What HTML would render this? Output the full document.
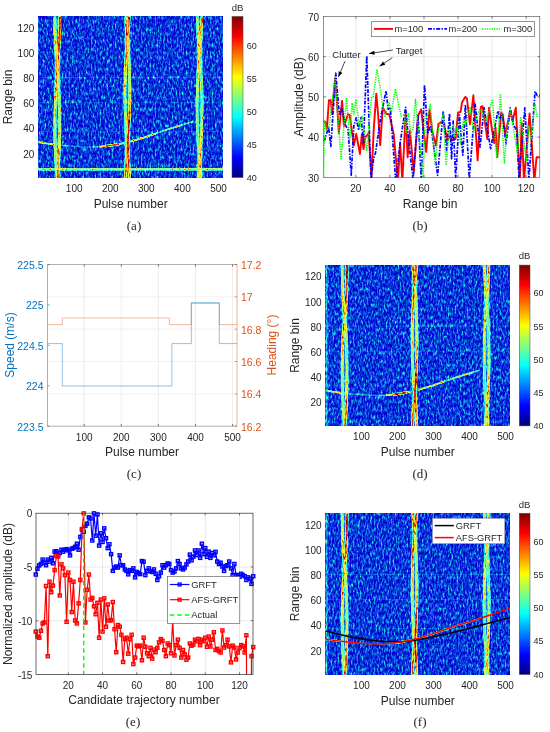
<!DOCTYPE html>
<html><head><meta charset="utf-8"><title>Figure</title>
<style>
html,body{margin:0;padding:0;background:#fff;}
svg{display:block}
text.s{font-family:"Liberation Sans",Arial,sans-serif;}
text.r{font-family:"Liberation Serif","Times New Roman",serif;}
</style></head><body>
<svg width="550" height="732" viewBox="0 0 550 732">
<rect width="550" height="732" fill="#fff"/>
<defs>
<linearGradient id="cbg" x1="0" x2="0" y1="1" y2="0">
<stop offset="0" stop-color="#000080"/><stop offset="0.125" stop-color="#0000ff"/><stop offset="0.375" stop-color="#00ffff"/><stop offset="0.625" stop-color="#ffff00"/><stop offset="0.875" stop-color="#ff0000"/><stop offset="1" stop-color="#800000"/>
</linearGradient>
</defs>
<filter id="jeta" filterUnits="userSpaceOnUse" x="38.3" y="16.5" width="184.7" height="161.0" color-interpolation-filters="sRGB">
<feTurbulence type="fractalNoise" baseFrequency="0.58 0.25" numOctaves="3" seed="3" result="n"/>
<feColorMatrix in="n" type="matrix" values="1 0 0 0 0  1 0 0 0 0  1 0 0 0 0  0 0 0 0 1" result="g0"/>
<feComponentTransfer in="g0" result="g">
<feFuncR type="gamma" amplitude="0.48" exponent="2.5" offset="0.092"/>
<feFuncG type="gamma" amplitude="0.48" exponent="2.5" offset="0.092"/>
<feFuncB type="gamma" amplitude="0.48" exponent="2.5" offset="0.092"/>
</feComponentTransfer>
<feGaussianBlur in="g" stdDeviation="0.4 0.55" result="gb"/>
<feComposite in="SourceGraphic" in2="gb" operator="arithmetic" k1="0.45" k2="1" k3="1" k4="0" result="s"/>
<feComponentTransfer in="s">
<feFuncR type="table" tableValues="0 0 0 0 0.5 1 1 1 0.5"/>
<feFuncG type="table" tableValues="0 0 0.5 1 1 1 0.5 0 0"/>
<feFuncB type="table" tableValues="0.5 1 1 1 0.5 0 0 0 0"/>
</feComponentTransfer>
<feColorMatrix type="saturate" values="0.82"/>
</filter>
<g filter="url(#jeta)">
<rect x="38.3" y="16.5" width="184.7" height="161.0" fill="#000"/>
<rect x="38.3" y="76.90" width="184.7" height="1.2" fill="#0d0d0d"/>
<rect x="38.3" y="102.06" width="184.7" height="1.2" fill="#0a0a0a"/>
<rect x="38.3" y="51.75" width="184.7" height="1.2" fill="#050505"/>
<rect x="38.3" y="130.99" width="184.7" height="1.2" fill="#080808"/>
<polyline points="38.48,142.15 39.92,142.39 41.37,142.62 42.81,142.84 44.25,143.07 45.70,143.28 47.14,143.49 48.58,143.70 50.02,143.90 51.47,144.09 52.91,144.27 54.35,144.45 54.35,144.45" fill="none" stroke="#707070" stroke-width="1.6"/>
<polyline points="54.35,144.45 55.80,144.62 57.24,144.78 58.68,144.94 60.12,145.09 61.57,145.23 63.01,145.37 64.45,145.51 65.18,145.57" fill="none" stroke="#262626" stroke-width="1.6"/>
<polyline points="65.18,145.57 66.62,145.70 68.06,145.81 69.50,145.93 70.95,146.03 72.39,146.13 73.83,146.23 75.28,146.32 76.72,146.40 78.16,146.49 79.60,146.56 81.05,146.64 82.49,146.71 83.93,146.77 85.38,146.82 86.82,146.87 88.26,146.90 89.71,146.93 91.15,146.93 92.23,146.93" fill="none" stroke="#171717" stroke-width="1.6"/>
<polyline points="92.23,146.93 93.67,146.91 95.12,146.87 96.56,146.82 98.00,146.74 99.45,146.65 99.45,146.65" fill="none" stroke="#292929" stroke-width="1.6"/>
<polyline points="99.45,146.65 100.89,146.54 102.33,146.42 103.77,146.28 105.22,146.13 105.94,146.05" fill="none" stroke="#666666" stroke-width="1.6"/>
<polyline points="105.94,146.05 107.38,145.88 108.83,145.70 110.27,145.51 111.71,145.31 113.15,145.09 114.60,144.87 116.04,144.63 117.48,144.37 118.93,144.11 119.65,143.97" fill="none" stroke="#9e9e9e" stroke-width="2.2"/>
<polyline points="119.65,143.97 121.09,143.68 122.53,143.38 123.98,143.07 124.70,142.91" fill="none" stroke="#757575" stroke-width="1.6"/>
<polyline points="124.70,142.91 126.14,142.58 127.58,142.23 129.03,141.87 130.47,141.49 131.91,141.11 133.36,140.71 134.80,140.31 136.24,139.89 137.68,139.46 139.13,139.03 140.57,138.58 142.01,138.13 143.46,137.66 144.90,137.19 146.34,136.71 147.79,136.23 149.23,135.74 150.67,135.25 152.11,134.75 153.56,134.25 155.00,133.75 156.44,133.25 157.16,133.00" fill="none" stroke="#707070" stroke-width="1.6"/>
<polyline points="157.16,133.00 158.61,132.50 160.05,132.00 161.49,131.50 162.94,131.01 164.38,130.52 164.38,130.52" fill="none" stroke="#333333" stroke-width="1.6"/>
<polyline points="164.38,130.52 165.82,130.03 167.27,129.56 168.71,129.08 170.15,128.62 171.59,128.15 173.04,127.70 174.48,127.25 175.92,126.80 177.37,126.36 178.81,125.92 180.25,125.49 181.70,125.05 182.42,124.83" fill="none" stroke="#575757" stroke-width="1.6"/>
<polyline points="182.42,124.83 183.86,124.39 185.30,123.95 186.75,123.51 188.19,123.06 189.63,122.60 191.07,122.14 192.52,121.67 193.24,121.44" fill="none" stroke="#383838" stroke-width="1.6"/>
<rect x="54.05" y="16.5" width="6.6" height="161.0" fill="#141414"/>
<polyline points="54.90,16.50 54.94,23.21 55.06,29.92 55.25,36.62 55.51,43.33 55.83,50.04 56.19,56.75 56.59,63.46 57.00,70.17 56.59,76.88 56.19,83.58 55.83,90.29 55.51,97.00 55.25,103.71 55.06,110.42 54.94,117.12 54.90,123.83 54.94,130.54 55.06,137.25 55.25,143.96 55.51,150.67 55.83,157.38 56.19,164.08 56.59,170.79 57.00,177.50" fill="none" stroke="#5c5c5c" stroke-width="2.8"/>
<polyline points="59.80,16.50 59.76,23.21 59.64,29.92 59.44,36.62 59.18,43.33 58.86,50.04 58.50,56.75 58.11,63.46 57.70,70.17 58.11,76.88 58.50,83.58 58.86,90.29 59.18,97.00 59.44,103.71 59.64,110.42 59.76,117.12 59.80,123.83 59.76,130.54 59.64,137.25 59.44,143.96 59.18,150.67 58.86,157.38 58.50,164.08 58.11,170.79 57.70,177.50" fill="none" stroke="#5c5c5c" stroke-width="2.8"/>
<line x1="54.90" y1="16.50" x2="54.94" y2="23.51" stroke="#494949" stroke-width="1.6"/>
<line x1="54.94" y1="23.21" x2="55.06" y2="30.22" stroke="#525252" stroke-width="1.6"/>
<line x1="55.06" y1="29.92" x2="55.26" y2="36.92" stroke="#5c5c5c" stroke-width="1.6"/>
<line x1="55.25" y1="36.62" x2="55.53" y2="43.63" stroke="#676767" stroke-width="1.6"/>
<line x1="55.51" y1="43.33" x2="55.85" y2="50.34" stroke="#737373" stroke-width="1.6"/>
<line x1="55.83" y1="50.04" x2="56.21" y2="57.05" stroke="#7d7d7d" stroke-width="1.6"/>
<line x1="56.19" y1="56.75" x2="56.61" y2="63.76" stroke="#858585" stroke-width="1.6"/>
<line x1="56.59" y1="63.46" x2="56.98" y2="70.47" stroke="#8b8b8b" stroke-width="1.6"/>
<line x1="57.00" y1="70.17" x2="56.57" y2="77.17" stroke="#8e8e8e" stroke-width="1.6"/>
<line x1="56.59" y1="76.88" x2="56.18" y2="83.88" stroke="#8e8e8e" stroke-width="1.6"/>
<line x1="56.19" y1="83.58" x2="55.82" y2="90.59" stroke="#8a8a8a" stroke-width="1.6"/>
<line x1="55.83" y1="90.29" x2="55.50" y2="97.30" stroke="#848484" stroke-width="1.6"/>
<line x1="55.51" y1="97.00" x2="55.24" y2="104.01" stroke="#7b7b7b" stroke-width="1.6"/>
<line x1="55.25" y1="103.71" x2="55.05" y2="110.72" stroke="#707070" stroke-width="1.6"/>
<line x1="55.06" y1="110.42" x2="54.93" y2="117.42" stroke="#656565" stroke-width="1.6"/>
<line x1="54.94" y1="117.12" x2="54.90" y2="124.13" stroke="#5a5a5a" stroke-width="1.6"/>
<line x1="54.90" y1="123.83" x2="54.94" y2="130.84" stroke="#505050" stroke-width="1.6"/>
<line x1="54.94" y1="130.54" x2="55.06" y2="137.55" stroke="#494949" stroke-width="1.6"/>
<line x1="55.06" y1="137.25" x2="55.26" y2="144.26" stroke="#444444" stroke-width="1.6"/>
<line x1="55.25" y1="143.96" x2="55.53" y2="150.97" stroke="#424242" stroke-width="1.6"/>
<line x1="55.51" y1="150.67" x2="55.85" y2="157.68" stroke="#434343" stroke-width="1.6"/>
<line x1="55.83" y1="157.38" x2="56.21" y2="164.38" stroke="#484848" stroke-width="1.6"/>
<line x1="56.19" y1="164.08" x2="56.61" y2="171.09" stroke="#505050" stroke-width="1.6"/>
<line x1="56.59" y1="170.79" x2="56.98" y2="177.80" stroke="#595959" stroke-width="1.6"/>
<line x1="59.80" y1="16.50" x2="59.75" y2="23.51" stroke="#a4a4a4" stroke-width="2.0"/>
<line x1="59.76" y1="23.21" x2="59.63" y2="30.22" stroke="#a6a6a6" stroke-width="2.0"/>
<line x1="59.64" y1="29.92" x2="59.43" y2="36.92" stroke="#a5a5a5" stroke-width="2.0"/>
<line x1="59.44" y1="36.62" x2="59.17" y2="43.63" stroke="#a1a1a1" stroke-width="2.0"/>
<line x1="59.18" y1="43.33" x2="58.85" y2="50.34" stroke="#989898" stroke-width="2.0"/>
<line x1="58.86" y1="50.04" x2="58.48" y2="57.05" stroke="#8d8d8d" stroke-width="2.0"/>
<line x1="58.50" y1="56.75" x2="58.09" y2="63.76" stroke="#818181" stroke-width="2.0"/>
<line x1="58.11" y1="63.46" x2="57.72" y2="70.47" stroke="#737373" stroke-width="2.0"/>
<line x1="57.70" y1="70.17" x2="58.12" y2="77.17" stroke="#666666" stroke-width="2.0"/>
<line x1="58.11" y1="76.88" x2="58.52" y2="83.88" stroke="#5a5a5a" stroke-width="2.0"/>
<line x1="58.50" y1="83.58" x2="58.88" y2="90.59" stroke="#515151" stroke-width="2.0"/>
<line x1="58.86" y1="90.29" x2="59.20" y2="97.30" stroke="#4a4a4a" stroke-width="2.0"/>
<line x1="59.18" y1="97.00" x2="59.45" y2="104.01" stroke="#474747" stroke-width="2.0"/>
<line x1="59.44" y1="103.71" x2="59.64" y2="110.72" stroke="#484848" stroke-width="2.0"/>
<line x1="59.64" y1="110.42" x2="59.76" y2="117.42" stroke="#4c4c4c" stroke-width="2.0"/>
<line x1="59.76" y1="117.12" x2="59.80" y2="124.13" stroke="#535353" stroke-width="2.0"/>
<line x1="59.80" y1="123.83" x2="59.75" y2="130.84" stroke="#5c5c5c" stroke-width="2.0"/>
<line x1="59.76" y1="130.54" x2="59.63" y2="137.55" stroke="#676767" stroke-width="2.0"/>
<line x1="59.64" y1="137.25" x2="59.43" y2="144.26" stroke="#727272" stroke-width="2.0"/>
<line x1="59.44" y1="143.96" x2="59.17" y2="150.97" stroke="#7d7d7d" stroke-width="2.0"/>
<line x1="59.18" y1="150.67" x2="58.85" y2="157.68" stroke="#878787" stroke-width="2.0"/>
<line x1="58.86" y1="157.38" x2="58.48" y2="164.38" stroke="#8e8e8e" stroke-width="2.0"/>
<line x1="58.50" y1="164.08" x2="58.09" y2="171.09" stroke="#929292" stroke-width="2.0"/>
<line x1="58.11" y1="170.79" x2="57.72" y2="177.80" stroke="#929292" stroke-width="2.0"/>
<rect x="124.10" y="16.5" width="6.6" height="161.0" fill="#141414"/>
<polyline points="125.82,16.50 126.17,23.21 126.56,29.92 126.97,36.62 126.72,43.33 126.33,50.04 125.96,56.75 125.63,63.46 125.35,70.17 125.15,76.88 125.01,83.58 124.95,90.29 124.98,97.00 125.08,103.71 125.26,110.42 125.51,117.12 125.82,123.83 126.17,130.54 126.56,137.25 126.97,143.96 126.72,150.67 126.33,157.38 125.96,164.08 125.63,170.79 125.35,177.50" fill="none" stroke="#616161" stroke-width="2.8"/>
<polyline points="128.99,16.50 128.63,23.21 128.24,29.92 127.84,36.62 128.08,43.33 128.48,50.04 128.85,56.75 129.18,63.46 129.45,70.17 129.66,76.88 129.80,83.58 129.85,90.29 129.83,97.00 129.72,103.71 129.54,110.42 129.30,117.12 128.99,123.83 128.63,130.54 128.24,137.25 127.84,143.96 128.08,150.67 128.48,157.38 128.85,164.08 129.18,170.79 129.45,177.50" fill="none" stroke="#616161" stroke-width="2.8"/>
<line x1="125.82" y1="16.50" x2="126.19" y2="23.51" stroke="#878787" stroke-width="1.6"/>
<line x1="126.17" y1="23.21" x2="126.58" y2="30.22" stroke="#909090" stroke-width="1.6"/>
<line x1="126.56" y1="29.92" x2="126.99" y2="36.92" stroke="#969696" stroke-width="1.6"/>
<line x1="126.97" y1="36.62" x2="126.71" y2="43.63" stroke="#989898" stroke-width="1.6"/>
<line x1="126.72" y1="43.33" x2="126.31" y2="50.34" stroke="#979797" stroke-width="1.6"/>
<line x1="126.33" y1="50.04" x2="125.94" y2="57.05" stroke="#939393" stroke-width="1.6"/>
<line x1="125.96" y1="56.75" x2="125.61" y2="63.76" stroke="#8c8c8c" stroke-width="1.6"/>
<line x1="125.63" y1="63.46" x2="125.34" y2="70.47" stroke="#828282" stroke-width="1.6"/>
<line x1="125.35" y1="70.17" x2="125.14" y2="77.17" stroke="#767676" stroke-width="1.6"/>
<line x1="125.15" y1="76.88" x2="125.01" y2="83.88" stroke="#6a6a6a" stroke-width="1.6"/>
<line x1="125.01" y1="83.58" x2="124.95" y2="90.59" stroke="#5f5f5f" stroke-width="1.6"/>
<line x1="124.95" y1="90.29" x2="124.98" y2="97.30" stroke="#555555" stroke-width="1.6"/>
<line x1="124.98" y1="97.00" x2="125.09" y2="104.01" stroke="#4d4d4d" stroke-width="1.6"/>
<line x1="125.08" y1="103.71" x2="125.27" y2="110.72" stroke="#484848" stroke-width="1.6"/>
<line x1="125.26" y1="110.42" x2="125.52" y2="117.42" stroke="#464646" stroke-width="1.6"/>
<line x1="125.51" y1="117.12" x2="125.83" y2="124.13" stroke="#484848" stroke-width="1.6"/>
<line x1="125.82" y1="123.83" x2="126.19" y2="130.84" stroke="#4e4e4e" stroke-width="1.6"/>
<line x1="126.17" y1="130.54" x2="126.58" y2="137.55" stroke="#565656" stroke-width="1.6"/>
<line x1="126.56" y1="137.25" x2="126.99" y2="144.26" stroke="#616161" stroke-width="1.6"/>
<line x1="126.97" y1="143.96" x2="126.71" y2="150.97" stroke="#6d6d6d" stroke-width="1.6"/>
<line x1="126.72" y1="150.67" x2="126.31" y2="157.68" stroke="#7a7a7a" stroke-width="1.6"/>
<line x1="126.33" y1="157.38" x2="125.94" y2="164.38" stroke="#868686" stroke-width="1.6"/>
<line x1="125.96" y1="164.08" x2="125.61" y2="171.09" stroke="#909090" stroke-width="1.6"/>
<line x1="125.63" y1="170.79" x2="125.34" y2="177.80" stroke="#989898" stroke-width="1.6"/>
<line x1="128.99" y1="16.50" x2="128.62" y2="23.51" stroke="#9a9a9a" stroke-width="2.0"/>
<line x1="128.63" y1="23.21" x2="128.23" y2="30.22" stroke="#8c8c8c" stroke-width="2.0"/>
<line x1="128.24" y1="29.92" x2="127.82" y2="36.92" stroke="#7d7d7d" stroke-width="2.0"/>
<line x1="127.84" y1="36.62" x2="128.10" y2="43.63" stroke="#6f6f6f" stroke-width="2.0"/>
<line x1="128.08" y1="43.33" x2="128.50" y2="50.34" stroke="#626262" stroke-width="2.0"/>
<line x1="128.48" y1="50.04" x2="128.87" y2="57.05" stroke="#585858" stroke-width="2.0"/>
<line x1="128.85" y1="56.75" x2="129.19" y2="63.76" stroke="#525252" stroke-width="2.0"/>
<line x1="129.18" y1="63.46" x2="129.46" y2="70.47" stroke="#4f4f4f" stroke-width="2.0"/>
<line x1="129.45" y1="70.17" x2="129.67" y2="77.17" stroke="#515151" stroke-width="2.0"/>
<line x1="129.66" y1="76.88" x2="129.80" y2="83.88" stroke="#565656" stroke-width="2.0"/>
<line x1="129.80" y1="83.58" x2="129.85" y2="90.59" stroke="#5e5e5e" stroke-width="2.0"/>
<line x1="129.85" y1="90.29" x2="129.82" y2="97.30" stroke="#696969" stroke-width="2.0"/>
<line x1="129.83" y1="97.00" x2="129.72" y2="104.01" stroke="#767676" stroke-width="2.0"/>
<line x1="129.72" y1="103.71" x2="129.53" y2="110.72" stroke="#838383" stroke-width="2.0"/>
<line x1="129.54" y1="110.42" x2="129.28" y2="117.42" stroke="#8f8f8f" stroke-width="2.0"/>
<line x1="129.30" y1="117.12" x2="128.97" y2="124.13" stroke="#9a9a9a" stroke-width="2.0"/>
<line x1="128.99" y1="123.83" x2="128.62" y2="130.84" stroke="#a1a1a1" stroke-width="2.0"/>
<line x1="128.63" y1="130.54" x2="128.23" y2="137.55" stroke="#a6a6a6" stroke-width="2.0"/>
<line x1="128.24" y1="137.25" x2="127.82" y2="144.26" stroke="#a7a7a7" stroke-width="2.0"/>
<line x1="127.84" y1="143.96" x2="128.10" y2="150.97" stroke="#a3a3a3" stroke-width="2.0"/>
<line x1="128.08" y1="150.67" x2="128.50" y2="157.68" stroke="#9d9d9d" stroke-width="2.0"/>
<line x1="128.48" y1="157.38" x2="128.87" y2="164.38" stroke="#939393" stroke-width="2.0"/>
<line x1="128.85" y1="164.08" x2="129.19" y2="171.09" stroke="#878787" stroke-width="2.0"/>
<line x1="129.18" y1="170.79" x2="129.46" y2="177.80" stroke="#7a7a7a" stroke-width="2.0"/>
<rect x="196.29" y="16.5" width="6.6" height="161.0" fill="#141414"/>
<polyline points="197.37,16.50 197.59,23.21 197.87,29.92 198.21,36.62 198.59,43.33 198.99,50.04 199.07,56.75 198.67,63.46 198.28,70.17 197.94,76.88 197.64,83.58 197.41,90.29 197.24,97.00 197.15,103.71 197.14,110.42 197.22,117.12 197.37,123.83 197.59,130.54 197.87,137.25 198.21,143.96 198.59,150.67 198.99,157.38 199.07,164.08 198.67,170.79 198.28,177.50" fill="none" stroke="#525252" stroke-width="2.8"/>
<polyline points="201.81,16.50 201.59,23.21 201.30,29.92 200.96,36.62 200.59,43.33 200.18,50.04 200.10,56.75 200.51,63.46 200.89,70.17 201.24,76.88 201.53,83.58 201.77,90.29 201.94,97.00 202.02,103.71 202.03,110.42 201.96,117.12 201.81,123.83 201.59,130.54 201.30,137.25 200.96,143.96 200.59,150.67 200.18,157.38 200.10,164.08 200.51,170.79 200.89,177.50" fill="none" stroke="#525252" stroke-width="2.8"/>
<line x1="197.37" y1="16.50" x2="197.60" y2="23.51" stroke="#565656" stroke-width="1.6"/>
<line x1="197.59" y1="23.21" x2="197.89" y2="30.22" stroke="#606060" stroke-width="1.6"/>
<line x1="197.87" y1="29.92" x2="198.23" y2="36.92" stroke="#6a6a6a" stroke-width="1.6"/>
<line x1="198.21" y1="36.62" x2="198.61" y2="43.63" stroke="#727272" stroke-width="1.6"/>
<line x1="198.59" y1="43.33" x2="199.01" y2="50.34" stroke="#787878" stroke-width="1.6"/>
<line x1="198.99" y1="50.04" x2="199.05" y2="57.05" stroke="#7c7c7c" stroke-width="1.6"/>
<line x1="199.07" y1="56.75" x2="198.65" y2="63.76" stroke="#7d7d7d" stroke-width="1.6"/>
<line x1="198.67" y1="63.46" x2="198.27" y2="70.47" stroke="#7b7b7b" stroke-width="1.6"/>
<line x1="198.28" y1="70.17" x2="197.92" y2="77.17" stroke="#767676" stroke-width="1.6"/>
<line x1="197.94" y1="76.88" x2="197.63" y2="83.88" stroke="#6f6f6f" stroke-width="1.6"/>
<line x1="197.64" y1="83.58" x2="197.40" y2="90.59" stroke="#676767" stroke-width="1.6"/>
<line x1="197.41" y1="90.29" x2="197.23" y2="97.30" stroke="#5d5d5d" stroke-width="1.6"/>
<line x1="197.24" y1="97.00" x2="197.15" y2="104.01" stroke="#535353" stroke-width="1.6"/>
<line x1="197.15" y1="103.71" x2="197.15" y2="110.72" stroke="#4a4a4a" stroke-width="1.6"/>
<line x1="197.14" y1="110.42" x2="197.22" y2="117.42" stroke="#434343" stroke-width="1.6"/>
<line x1="197.22" y1="117.12" x2="197.38" y2="124.13" stroke="#3d3d3d" stroke-width="1.6"/>
<line x1="197.37" y1="123.83" x2="197.60" y2="130.84" stroke="#3a3a3a" stroke-width="1.6"/>
<line x1="197.59" y1="130.54" x2="197.89" y2="137.55" stroke="#3a3a3a" stroke-width="1.6"/>
<line x1="197.87" y1="137.25" x2="198.23" y2="144.26" stroke="#3d3d3d" stroke-width="1.6"/>
<line x1="198.21" y1="143.96" x2="198.61" y2="150.97" stroke="#434343" stroke-width="1.6"/>
<line x1="198.59" y1="150.67" x2="199.01" y2="157.68" stroke="#4b4b4b" stroke-width="1.6"/>
<line x1="198.99" y1="157.38" x2="199.05" y2="164.38" stroke="#545454" stroke-width="1.6"/>
<line x1="199.07" y1="164.08" x2="198.65" y2="171.09" stroke="#5f5f5f" stroke-width="1.6"/>
<line x1="198.67" y1="170.79" x2="198.27" y2="177.80" stroke="#696969" stroke-width="1.6"/>
<line x1="201.81" y1="16.50" x2="201.58" y2="23.51" stroke="#848484" stroke-width="2.0"/>
<line x1="201.59" y1="23.21" x2="201.29" y2="30.22" stroke="#7f7f7f" stroke-width="2.0"/>
<line x1="201.30" y1="29.92" x2="200.95" y2="36.92" stroke="#777777" stroke-width="2.0"/>
<line x1="200.96" y1="36.62" x2="200.57" y2="43.63" stroke="#6e6e6e" stroke-width="2.0"/>
<line x1="200.59" y1="43.33" x2="200.17" y2="50.34" stroke="#636363" stroke-width="2.0"/>
<line x1="200.18" y1="50.04" x2="200.12" y2="57.05" stroke="#585858" stroke-width="2.0"/>
<line x1="200.10" y1="56.75" x2="200.53" y2="63.76" stroke="#4e4e4e" stroke-width="2.0"/>
<line x1="200.51" y1="63.46" x2="200.91" y2="70.47" stroke="#464646" stroke-width="2.0"/>
<line x1="200.89" y1="70.17" x2="201.25" y2="77.17" stroke="#3f3f3f" stroke-width="2.0"/>
<line x1="201.24" y1="76.88" x2="201.55" y2="83.88" stroke="#3c3c3c" stroke-width="2.0"/>
<line x1="201.53" y1="83.58" x2="201.78" y2="90.59" stroke="#3b3b3b" stroke-width="2.0"/>
<line x1="201.77" y1="90.29" x2="201.94" y2="97.30" stroke="#3d3d3d" stroke-width="2.0"/>
<line x1="201.94" y1="97.00" x2="202.03" y2="104.01" stroke="#424242" stroke-width="2.0"/>
<line x1="202.02" y1="103.71" x2="202.03" y2="110.72" stroke="#4a4a4a" stroke-width="2.0"/>
<line x1="202.03" y1="110.42" x2="201.95" y2="117.42" stroke="#535353" stroke-width="2.0"/>
<line x1="201.96" y1="117.12" x2="201.80" y2="124.13" stroke="#5c5c5c" stroke-width="2.0"/>
<line x1="201.81" y1="123.83" x2="201.58" y2="130.84" stroke="#666666" stroke-width="2.0"/>
<line x1="201.59" y1="130.54" x2="201.29" y2="137.55" stroke="#6f6f6f" stroke-width="2.0"/>
<line x1="201.30" y1="137.25" x2="200.95" y2="144.26" stroke="#767676" stroke-width="2.0"/>
<line x1="200.96" y1="143.96" x2="200.57" y2="150.97" stroke="#7b7b7b" stroke-width="2.0"/>
<line x1="200.59" y1="150.67" x2="200.17" y2="157.68" stroke="#7d7d7d" stroke-width="2.0"/>
<line x1="200.18" y1="157.38" x2="200.12" y2="164.38" stroke="#7c7c7c" stroke-width="2.0"/>
<line x1="200.10" y1="164.08" x2="200.53" y2="171.09" stroke="#797979" stroke-width="2.0"/>
<line x1="200.51" y1="170.79" x2="200.91" y2="177.80" stroke="#737373" stroke-width="2.0"/>
<rect x="38.3" y="168.22" width="184.7" height="2.2" fill="#666666"/>
</g>
<text class="s" x="74.19" y="192.00" font-size="10" text-anchor="middle" fill="#262626">100</text>
<text class="s" x="110.27" y="192.00" font-size="10" text-anchor="middle" fill="#262626">200</text>
<text class="s" x="146.34" y="192.00" font-size="10" text-anchor="middle" fill="#262626">300</text>
<text class="s" x="182.42" y="192.00" font-size="10" text-anchor="middle" fill="#262626">400</text>
<text class="s" x="218.49" y="192.00" font-size="10" text-anchor="middle" fill="#262626">500</text>
<text class="s" x="34.30" y="157.57" font-size="10" text-anchor="end" fill="#262626">20</text>
<text class="s" x="34.30" y="132.42" font-size="10" text-anchor="end" fill="#262626">40</text>
<text class="s" x="34.30" y="107.26" font-size="10" text-anchor="end" fill="#262626">60</text>
<text class="s" x="34.30" y="82.10" font-size="10" text-anchor="end" fill="#262626">80</text>
<text class="s" x="34.30" y="56.95" font-size="10" text-anchor="end" fill="#262626">100</text>
<text class="s" x="34.30" y="31.79" font-size="10" text-anchor="end" fill="#262626">120</text>
<text class="s" x="130.65" y="208.00" font-size="12" text-anchor="middle" fill="#262626">Pulse number</text>
<text class="s" x="12.20" y="97.00" font-size="12" text-anchor="middle" fill="#262626" transform="rotate(-90 12.20 97.00)">Range bin</text>
<rect x="232" y="16.5" width="11" height="161.0" fill="url(#cbg)"/>
<rect x="232" y="16.5" width="11" height="161.0" fill="none" stroke="#444" stroke-width="0.5"/>
<text class="s" x="246.80" y="180.80" font-size="9" text-anchor="start" fill="#262626">40</text>
<text class="s" x="246.80" y="147.81" font-size="9" text-anchor="start" fill="#262626">45</text>
<text class="s" x="246.80" y="114.82" font-size="9" text-anchor="start" fill="#262626">50</text>
<text class="s" x="246.80" y="81.82" font-size="9" text-anchor="start" fill="#262626">55</text>
<text class="s" x="246.80" y="48.83" font-size="9" text-anchor="start" fill="#262626">60</text>
<text class="s" x="237.50" y="10.70" font-size="9.5" text-anchor="middle" fill="#262626">dB</text>
<text class="r" x="134.00" y="230.00" font-size="13" text-anchor="middle" fill="#262626">(a)</text>
<filter id="jetd" filterUnits="userSpaceOnUse" x="325.6" y="265.1" width="184.39999999999998" height="160.79999999999995" color-interpolation-filters="sRGB">
<feTurbulence type="fractalNoise" baseFrequency="0.58 0.25" numOctaves="3" seed="5" result="n"/>
<feColorMatrix in="n" type="matrix" values="1 0 0 0 0  1 0 0 0 0  1 0 0 0 0  0 0 0 0 1" result="g0"/>
<feComponentTransfer in="g0" result="g">
<feFuncR type="gamma" amplitude="0.48" exponent="2.5" offset="0.092"/>
<feFuncG type="gamma" amplitude="0.48" exponent="2.5" offset="0.092"/>
<feFuncB type="gamma" amplitude="0.48" exponent="2.5" offset="0.092"/>
</feComponentTransfer>
<feGaussianBlur in="g" stdDeviation="0.4 0.55" result="gb"/>
<feComposite in="SourceGraphic" in2="gb" operator="arithmetic" k1="0.45" k2="1" k3="1" k4="0" result="s"/>
<feComponentTransfer in="s">
<feFuncR type="table" tableValues="0 0 0 0 0.5 1 1 1 0.5"/>
<feFuncG type="table" tableValues="0 0 0.5 1 1 1 0.5 0 0"/>
<feFuncB type="table" tableValues="0.5 1 1 1 0.5 0 0 0 0"/>
</feComponentTransfer>
<feColorMatrix type="saturate" values="0.82"/>
</filter>
<g filter="url(#jetd)">
<rect x="325.6" y="265.1" width="184.39999999999998" height="160.79999999999995" fill="#000"/>
<rect x="325.6" y="325.43" width="184.39999999999998" height="1.2" fill="#0d0d0d"/>
<rect x="325.6" y="350.55" width="184.39999999999998" height="1.2" fill="#0a0a0a"/>
<rect x="325.6" y="300.30" width="184.39999999999998" height="1.2" fill="#050505"/>
<rect x="325.6" y="379.45" width="184.39999999999998" height="1.2" fill="#080808"/>
<polyline points="325.78,390.60 327.22,390.83 328.66,391.06 330.10,391.29 331.54,391.51 332.98,391.73 334.42,391.94 335.86,392.14 337.31,392.34 338.75,392.53 340.19,392.71 341.63,392.89 341.63,392.89" fill="none" stroke="#707070" stroke-width="1.6"/>
<polyline points="341.63,392.89 343.07,393.06 344.51,393.22 345.95,393.38 347.39,393.53 348.83,393.67 350.27,393.81 351.71,393.95 352.43,394.01" fill="none" stroke="#262626" stroke-width="1.6"/>
<polyline points="352.43,394.01 353.87,394.13 355.31,394.25 356.75,394.37 358.19,394.47 359.63,394.57 361.08,394.67 362.52,394.76 363.96,394.84 365.40,394.92 366.84,395.00 368.28,395.08 369.72,395.14 371.16,395.21 372.60,395.26 374.04,395.31 375.48,395.34 376.92,395.36 378.36,395.37 379.44,395.37" fill="none" stroke="#171717" stroke-width="1.6"/>
<polyline points="379.44,395.37 380.88,395.35 382.32,395.31 383.77,395.25 385.21,395.18 386.65,395.09 386.65,395.09" fill="none" stroke="#292929" stroke-width="1.6"/>
<polyline points="386.65,395.09 388.09,394.98 389.53,394.86 390.97,394.72 392.41,394.57 393.13,394.49" fill="none" stroke="#666666" stroke-width="1.6"/>
<polyline points="393.13,394.49 394.57,394.32 396.01,394.14 397.45,393.95 398.89,393.75 400.33,393.53 401.77,393.31 403.21,393.07 404.65,392.81 406.09,392.55 406.82,392.41" fill="none" stroke="#9e9e9e" stroke-width="2.2"/>
<polyline points="406.82,392.41 408.26,392.13 409.70,391.83 411.14,391.51 411.86,391.35" fill="none" stroke="#757575" stroke-width="1.6"/>
<polyline points="411.86,391.35 413.30,391.02 414.74,390.67 416.18,390.31 417.62,389.94 419.06,389.55 420.50,389.16 421.94,388.75 423.38,388.34 424.82,387.91 426.26,387.47 427.70,387.03 429.14,386.58 430.59,386.11 432.03,385.64 433.47,385.17 434.91,384.68 436.35,384.19 437.79,383.70 439.23,383.20 440.67,382.71 442.11,382.20 443.55,381.70 444.27,381.45" fill="none" stroke="#707070" stroke-width="1.6"/>
<polyline points="444.27,381.45 445.71,380.95 447.15,380.45 448.59,379.96 450.03,379.46 451.47,378.98 451.47,378.98" fill="none" stroke="#333333" stroke-width="1.6"/>
<polyline points="451.47,378.98 452.92,378.49 454.36,378.02 455.80,377.54 457.24,377.08 458.68,376.62 460.12,376.16 461.56,375.71 463.00,375.27 464.44,374.83 465.88,374.39 467.32,373.95 468.76,373.51 469.48,373.30" fill="none" stroke="#575757" stroke-width="1.6"/>
<polyline points="469.48,373.30 470.92,372.86 472.36,372.42 473.80,371.97 475.24,371.52 476.69,371.07 478.13,370.61 479.57,370.14 480.29,369.91" fill="none" stroke="#383838" stroke-width="1.6"/>
<rect x="341.32" y="265.1" width="6.6" height="160.79999999999995" fill="#141414"/>
<polyline points="342.17,265.10 342.21,271.80 342.33,278.50 342.52,285.20 342.78,291.90 343.10,298.60 343.46,305.30 343.86,312.00 344.27,318.70 343.86,325.40 343.46,332.10 343.10,338.80 342.78,345.50 342.52,352.20 342.33,358.90 342.21,365.60 342.17,372.30 342.21,379.00 342.33,385.70 342.52,392.40 342.78,399.10 343.10,405.80 343.46,412.50 343.86,419.20 344.27,425.90" fill="none" stroke="#5c5c5c" stroke-width="2.8"/>
<polyline points="347.07,265.10 347.03,271.80 346.91,278.50 346.71,285.20 346.45,291.90 346.13,298.60 345.77,305.30 345.38,312.00 344.97,318.70 345.38,325.40 345.77,332.10 346.13,338.80 346.45,345.50 346.71,352.20 346.91,358.90 347.03,365.60 347.07,372.30 347.03,379.00 346.91,385.70 346.71,392.40 346.45,399.10 346.13,405.80 345.77,412.50 345.38,419.20 344.97,425.90" fill="none" stroke="#5c5c5c" stroke-width="2.8"/>
<line x1="342.17" y1="265.10" x2="342.21" y2="272.10" stroke="#494949" stroke-width="1.6"/>
<line x1="342.21" y1="271.80" x2="342.33" y2="278.80" stroke="#525252" stroke-width="1.6"/>
<line x1="342.33" y1="278.50" x2="342.53" y2="285.50" stroke="#5c5c5c" stroke-width="1.6"/>
<line x1="342.52" y1="285.20" x2="342.79" y2="292.20" stroke="#676767" stroke-width="1.6"/>
<line x1="342.78" y1="291.90" x2="343.11" y2="298.90" stroke="#737373" stroke-width="1.6"/>
<line x1="343.10" y1="298.60" x2="343.48" y2="305.60" stroke="#7d7d7d" stroke-width="1.6"/>
<line x1="343.46" y1="305.30" x2="343.87" y2="312.30" stroke="#858585" stroke-width="1.6"/>
<line x1="343.86" y1="312.00" x2="344.25" y2="319.00" stroke="#8b8b8b" stroke-width="1.6"/>
<line x1="344.27" y1="318.70" x2="343.84" y2="325.70" stroke="#8e8e8e" stroke-width="1.6"/>
<line x1="343.86" y1="325.40" x2="343.45" y2="332.40" stroke="#8e8e8e" stroke-width="1.6"/>
<line x1="343.46" y1="332.10" x2="343.08" y2="339.10" stroke="#8a8a8a" stroke-width="1.6"/>
<line x1="343.10" y1="338.80" x2="342.77" y2="345.80" stroke="#848484" stroke-width="1.6"/>
<line x1="342.78" y1="345.50" x2="342.51" y2="352.50" stroke="#7b7b7b" stroke-width="1.6"/>
<line x1="342.52" y1="352.20" x2="342.32" y2="359.20" stroke="#707070" stroke-width="1.6"/>
<line x1="342.33" y1="358.90" x2="342.20" y2="365.90" stroke="#656565" stroke-width="1.6"/>
<line x1="342.21" y1="365.60" x2="342.17" y2="372.60" stroke="#5a5a5a" stroke-width="1.6"/>
<line x1="342.17" y1="372.30" x2="342.21" y2="379.30" stroke="#505050" stroke-width="1.6"/>
<line x1="342.21" y1="379.00" x2="342.33" y2="386.00" stroke="#494949" stroke-width="1.6"/>
<line x1="342.33" y1="385.70" x2="342.53" y2="392.70" stroke="#444444" stroke-width="1.6"/>
<line x1="342.52" y1="392.40" x2="342.79" y2="399.40" stroke="#424242" stroke-width="1.6"/>
<line x1="342.78" y1="399.10" x2="343.11" y2="406.10" stroke="#434343" stroke-width="1.6"/>
<line x1="343.10" y1="405.80" x2="343.48" y2="412.80" stroke="#484848" stroke-width="1.6"/>
<line x1="343.46" y1="412.50" x2="343.87" y2="419.50" stroke="#505050" stroke-width="1.6"/>
<line x1="343.86" y1="419.20" x2="344.25" y2="426.20" stroke="#595959" stroke-width="1.6"/>
<line x1="347.07" y1="265.10" x2="347.02" y2="272.10" stroke="#a4a4a4" stroke-width="2.0"/>
<line x1="347.03" y1="271.80" x2="346.90" y2="278.80" stroke="#a6a6a6" stroke-width="2.0"/>
<line x1="346.91" y1="278.50" x2="346.70" y2="285.50" stroke="#a5a5a5" stroke-width="2.0"/>
<line x1="346.71" y1="285.20" x2="346.44" y2="292.20" stroke="#a1a1a1" stroke-width="2.0"/>
<line x1="346.45" y1="291.90" x2="346.12" y2="298.90" stroke="#989898" stroke-width="2.0"/>
<line x1="346.13" y1="298.60" x2="345.75" y2="305.60" stroke="#8d8d8d" stroke-width="2.0"/>
<line x1="345.77" y1="305.30" x2="345.36" y2="312.30" stroke="#818181" stroke-width="2.0"/>
<line x1="345.38" y1="312.00" x2="344.98" y2="319.00" stroke="#737373" stroke-width="2.0"/>
<line x1="344.97" y1="318.70" x2="345.39" y2="325.70" stroke="#666666" stroke-width="2.0"/>
<line x1="345.38" y1="325.40" x2="345.79" y2="332.40" stroke="#5a5a5a" stroke-width="2.0"/>
<line x1="345.77" y1="332.10" x2="346.15" y2="339.10" stroke="#515151" stroke-width="2.0"/>
<line x1="346.13" y1="338.80" x2="346.46" y2="345.80" stroke="#4a4a4a" stroke-width="2.0"/>
<line x1="346.45" y1="345.50" x2="346.72" y2="352.50" stroke="#474747" stroke-width="2.0"/>
<line x1="346.71" y1="352.20" x2="346.91" y2="359.20" stroke="#484848" stroke-width="2.0"/>
<line x1="346.91" y1="358.90" x2="347.03" y2="365.90" stroke="#4c4c4c" stroke-width="2.0"/>
<line x1="347.03" y1="365.60" x2="347.07" y2="372.60" stroke="#535353" stroke-width="2.0"/>
<line x1="347.07" y1="372.30" x2="347.02" y2="379.30" stroke="#5c5c5c" stroke-width="2.0"/>
<line x1="347.03" y1="379.00" x2="346.90" y2="386.00" stroke="#676767" stroke-width="2.0"/>
<line x1="346.91" y1="385.70" x2="346.70" y2="392.70" stroke="#727272" stroke-width="2.0"/>
<line x1="346.71" y1="392.40" x2="346.44" y2="399.40" stroke="#7d7d7d" stroke-width="2.0"/>
<line x1="346.45" y1="399.10" x2="346.12" y2="406.10" stroke="#878787" stroke-width="2.0"/>
<line x1="346.13" y1="405.80" x2="345.75" y2="412.80" stroke="#8e8e8e" stroke-width="2.0"/>
<line x1="345.77" y1="412.50" x2="345.36" y2="419.50" stroke="#929292" stroke-width="2.0"/>
<line x1="345.38" y1="419.20" x2="344.98" y2="426.20" stroke="#929292" stroke-width="2.0"/>
<rect x="411.26" y="265.1" width="6.6" height="160.79999999999995" fill="#141414"/>
<polyline points="412.97,265.10 413.33,271.80 413.72,278.50 414.13,285.20 413.88,291.90 413.48,298.60 413.11,305.30 412.78,312.00 412.51,318.70 412.30,325.40 412.17,332.10 412.11,338.80 412.13,345.50 412.24,352.20 412.42,358.90 412.67,365.60 412.97,372.30 413.33,379.00 413.72,385.70 414.13,392.40 413.88,399.10 413.48,405.80 413.11,412.50 412.78,419.20 412.51,425.90" fill="none" stroke="#616161" stroke-width="2.8"/>
<polyline points="416.14,265.10 415.79,271.80 415.40,278.50 414.99,285.20 415.24,291.90 415.64,298.60 416.01,305.30 416.33,312.00 416.61,318.70 416.82,325.40 416.95,332.10 417.01,338.80 416.98,345.50 416.88,352.20 416.70,358.90 416.45,365.60 416.14,372.30 415.79,379.00 415.40,385.70 414.99,392.40 415.24,399.10 415.64,405.80 416.01,412.50 416.33,419.20 416.61,425.90" fill="none" stroke="#616161" stroke-width="2.8"/>
<line x1="412.97" y1="265.10" x2="413.35" y2="272.10" stroke="#878787" stroke-width="1.6"/>
<line x1="413.33" y1="271.80" x2="413.74" y2="278.80" stroke="#909090" stroke-width="1.6"/>
<line x1="413.72" y1="278.50" x2="414.14" y2="285.50" stroke="#969696" stroke-width="1.6"/>
<line x1="414.13" y1="285.20" x2="413.86" y2="292.20" stroke="#989898" stroke-width="1.6"/>
<line x1="413.88" y1="291.90" x2="413.46" y2="298.90" stroke="#979797" stroke-width="1.6"/>
<line x1="413.48" y1="298.60" x2="413.10" y2="305.60" stroke="#939393" stroke-width="1.6"/>
<line x1="413.11" y1="305.30" x2="412.77" y2="312.30" stroke="#8c8c8c" stroke-width="1.6"/>
<line x1="412.78" y1="312.00" x2="412.50" y2="319.00" stroke="#828282" stroke-width="1.6"/>
<line x1="412.51" y1="318.70" x2="412.29" y2="325.70" stroke="#767676" stroke-width="1.6"/>
<line x1="412.30" y1="325.40" x2="412.16" y2="332.40" stroke="#6a6a6a" stroke-width="1.6"/>
<line x1="412.17" y1="332.10" x2="412.11" y2="339.10" stroke="#5f5f5f" stroke-width="1.6"/>
<line x1="412.11" y1="338.80" x2="412.14" y2="345.80" stroke="#555555" stroke-width="1.6"/>
<line x1="412.13" y1="345.50" x2="412.24" y2="352.50" stroke="#4d4d4d" stroke-width="1.6"/>
<line x1="412.24" y1="352.20" x2="412.43" y2="359.20" stroke="#484848" stroke-width="1.6"/>
<line x1="412.42" y1="358.90" x2="412.68" y2="365.90" stroke="#464646" stroke-width="1.6"/>
<line x1="412.67" y1="365.60" x2="412.99" y2="372.60" stroke="#484848" stroke-width="1.6"/>
<line x1="412.97" y1="372.30" x2="413.35" y2="379.30" stroke="#4e4e4e" stroke-width="1.6"/>
<line x1="413.33" y1="379.00" x2="413.74" y2="386.00" stroke="#565656" stroke-width="1.6"/>
<line x1="413.72" y1="385.70" x2="414.14" y2="392.70" stroke="#616161" stroke-width="1.6"/>
<line x1="414.13" y1="392.40" x2="413.86" y2="399.40" stroke="#6d6d6d" stroke-width="1.6"/>
<line x1="413.88" y1="399.10" x2="413.46" y2="406.10" stroke="#7a7a7a" stroke-width="1.6"/>
<line x1="413.48" y1="405.80" x2="413.10" y2="412.80" stroke="#868686" stroke-width="1.6"/>
<line x1="413.11" y1="412.50" x2="412.77" y2="419.50" stroke="#909090" stroke-width="1.6"/>
<line x1="412.78" y1="419.20" x2="412.50" y2="426.20" stroke="#989898" stroke-width="1.6"/>
<line x1="416.14" y1="265.10" x2="415.77" y2="272.10" stroke="#9a9a9a" stroke-width="2.0"/>
<line x1="415.79" y1="271.80" x2="415.38" y2="278.80" stroke="#8c8c8c" stroke-width="2.0"/>
<line x1="415.40" y1="278.50" x2="414.97" y2="285.50" stroke="#7d7d7d" stroke-width="2.0"/>
<line x1="414.99" y1="285.20" x2="415.26" y2="292.20" stroke="#6f6f6f" stroke-width="2.0"/>
<line x1="415.24" y1="291.90" x2="415.65" y2="298.90" stroke="#626262" stroke-width="2.0"/>
<line x1="415.64" y1="298.60" x2="416.02" y2="305.60" stroke="#585858" stroke-width="2.0"/>
<line x1="416.01" y1="305.30" x2="416.35" y2="312.30" stroke="#525252" stroke-width="2.0"/>
<line x1="416.33" y1="312.00" x2="416.62" y2="319.00" stroke="#4f4f4f" stroke-width="2.0"/>
<line x1="416.61" y1="318.70" x2="416.82" y2="325.70" stroke="#515151" stroke-width="2.0"/>
<line x1="416.82" y1="325.40" x2="416.95" y2="332.40" stroke="#565656" stroke-width="2.0"/>
<line x1="416.95" y1="332.10" x2="417.01" y2="339.10" stroke="#5e5e5e" stroke-width="2.0"/>
<line x1="417.01" y1="338.80" x2="416.98" y2="345.80" stroke="#696969" stroke-width="2.0"/>
<line x1="416.98" y1="345.50" x2="416.87" y2="352.50" stroke="#767676" stroke-width="2.0"/>
<line x1="416.88" y1="352.20" x2="416.69" y2="359.20" stroke="#838383" stroke-width="2.0"/>
<line x1="416.70" y1="358.90" x2="416.44" y2="365.90" stroke="#8f8f8f" stroke-width="2.0"/>
<line x1="416.45" y1="365.60" x2="416.13" y2="372.60" stroke="#9a9a9a" stroke-width="2.0"/>
<line x1="416.14" y1="372.30" x2="415.77" y2="379.30" stroke="#a1a1a1" stroke-width="2.0"/>
<line x1="415.79" y1="379.00" x2="415.38" y2="386.00" stroke="#a6a6a6" stroke-width="2.0"/>
<line x1="415.40" y1="385.70" x2="414.97" y2="392.70" stroke="#a7a7a7" stroke-width="2.0"/>
<line x1="414.99" y1="392.40" x2="415.26" y2="399.40" stroke="#a3a3a3" stroke-width="2.0"/>
<line x1="415.24" y1="399.10" x2="415.65" y2="406.10" stroke="#9d9d9d" stroke-width="2.0"/>
<line x1="415.64" y1="405.80" x2="416.02" y2="412.80" stroke="#939393" stroke-width="2.0"/>
<line x1="416.01" y1="412.50" x2="416.35" y2="419.50" stroke="#878787" stroke-width="2.0"/>
<line x1="416.33" y1="419.20" x2="416.62" y2="426.20" stroke="#7a7a7a" stroke-width="2.0"/>
<rect x="483.33" y="265.1" width="6.6" height="160.79999999999995" fill="#141414"/>
<polyline points="484.40,265.10 484.63,271.80 484.91,278.50 485.25,285.20 485.63,291.90 486.03,298.60 486.11,305.30 485.71,312.00 485.32,318.70 484.98,325.40 484.68,332.10 484.44,338.80 484.28,345.50 484.19,352.20 484.18,358.90 484.25,365.60 484.40,372.30 484.63,379.00 484.91,385.70 485.25,392.40 485.63,399.10 486.03,405.80 486.11,412.50 485.71,419.20 485.32,425.90" fill="none" stroke="#525252" stroke-width="2.8"/>
<polyline points="488.85,265.10 488.63,271.80 488.34,278.50 488.00,285.20 487.62,291.90 487.22,298.60 487.14,305.30 487.55,312.00 487.93,318.70 488.28,325.40 488.57,332.10 488.81,338.80 488.97,345.50 489.06,352.20 489.07,358.90 489.00,365.60 488.85,372.30 488.63,379.00 488.34,385.70 488.00,392.40 487.62,399.10 487.22,405.80 487.14,412.50 487.55,419.20 487.93,425.90" fill="none" stroke="#525252" stroke-width="2.8"/>
<line x1="484.40" y1="265.10" x2="484.64" y2="272.10" stroke="#565656" stroke-width="1.6"/>
<line x1="484.63" y1="271.80" x2="484.93" y2="278.80" stroke="#606060" stroke-width="1.6"/>
<line x1="484.91" y1="278.50" x2="485.27" y2="285.50" stroke="#6a6a6a" stroke-width="1.6"/>
<line x1="485.25" y1="285.20" x2="485.64" y2="292.20" stroke="#727272" stroke-width="1.6"/>
<line x1="485.63" y1="291.90" x2="486.05" y2="298.90" stroke="#787878" stroke-width="1.6"/>
<line x1="486.03" y1="298.60" x2="486.09" y2="305.60" stroke="#7c7c7c" stroke-width="1.6"/>
<line x1="486.11" y1="305.30" x2="485.69" y2="312.30" stroke="#7d7d7d" stroke-width="1.6"/>
<line x1="485.71" y1="312.00" x2="485.31" y2="319.00" stroke="#7b7b7b" stroke-width="1.6"/>
<line x1="485.32" y1="318.70" x2="484.96" y2="325.70" stroke="#767676" stroke-width="1.6"/>
<line x1="484.98" y1="325.40" x2="484.67" y2="332.40" stroke="#6f6f6f" stroke-width="1.6"/>
<line x1="484.68" y1="332.10" x2="484.43" y2="339.10" stroke="#676767" stroke-width="1.6"/>
<line x1="484.44" y1="338.80" x2="484.27" y2="345.80" stroke="#5d5d5d" stroke-width="1.6"/>
<line x1="484.28" y1="345.50" x2="484.19" y2="352.50" stroke="#535353" stroke-width="1.6"/>
<line x1="484.19" y1="352.20" x2="484.18" y2="359.20" stroke="#4a4a4a" stroke-width="1.6"/>
<line x1="484.18" y1="358.90" x2="484.26" y2="365.90" stroke="#434343" stroke-width="1.6"/>
<line x1="484.25" y1="365.60" x2="484.41" y2="372.60" stroke="#3d3d3d" stroke-width="1.6"/>
<line x1="484.40" y1="372.30" x2="484.64" y2="379.30" stroke="#3a3a3a" stroke-width="1.6"/>
<line x1="484.63" y1="379.00" x2="484.93" y2="386.00" stroke="#3a3a3a" stroke-width="1.6"/>
<line x1="484.91" y1="385.70" x2="485.27" y2="392.70" stroke="#3d3d3d" stroke-width="1.6"/>
<line x1="485.25" y1="392.40" x2="485.64" y2="399.40" stroke="#434343" stroke-width="1.6"/>
<line x1="485.63" y1="399.10" x2="486.05" y2="406.10" stroke="#4b4b4b" stroke-width="1.6"/>
<line x1="486.03" y1="405.80" x2="486.09" y2="412.80" stroke="#545454" stroke-width="1.6"/>
<line x1="486.11" y1="412.50" x2="485.69" y2="419.50" stroke="#5f5f5f" stroke-width="1.6"/>
<line x1="485.71" y1="419.20" x2="485.31" y2="426.20" stroke="#696969" stroke-width="1.6"/>
<line x1="488.85" y1="265.10" x2="488.61" y2="272.10" stroke="#848484" stroke-width="2.0"/>
<line x1="488.63" y1="271.80" x2="488.33" y2="278.80" stroke="#7f7f7f" stroke-width="2.0"/>
<line x1="488.34" y1="278.50" x2="487.99" y2="285.50" stroke="#777777" stroke-width="2.0"/>
<line x1="488.00" y1="285.20" x2="487.61" y2="292.20" stroke="#6e6e6e" stroke-width="2.0"/>
<line x1="487.62" y1="291.90" x2="487.20" y2="298.90" stroke="#636363" stroke-width="2.0"/>
<line x1="487.22" y1="298.60" x2="487.16" y2="305.60" stroke="#585858" stroke-width="2.0"/>
<line x1="487.14" y1="305.30" x2="487.56" y2="312.30" stroke="#4e4e4e" stroke-width="2.0"/>
<line x1="487.55" y1="312.00" x2="487.95" y2="319.00" stroke="#464646" stroke-width="2.0"/>
<line x1="487.93" y1="318.70" x2="488.29" y2="325.70" stroke="#3f3f3f" stroke-width="2.0"/>
<line x1="488.28" y1="325.40" x2="488.58" y2="332.40" stroke="#3c3c3c" stroke-width="2.0"/>
<line x1="488.57" y1="332.10" x2="488.82" y2="339.10" stroke="#3b3b3b" stroke-width="2.0"/>
<line x1="488.81" y1="338.80" x2="488.98" y2="345.80" stroke="#3d3d3d" stroke-width="2.0"/>
<line x1="488.97" y1="345.50" x2="489.06" y2="352.50" stroke="#424242" stroke-width="2.0"/>
<line x1="489.06" y1="352.20" x2="489.07" y2="359.20" stroke="#4a4a4a" stroke-width="2.0"/>
<line x1="489.07" y1="358.90" x2="488.99" y2="365.90" stroke="#535353" stroke-width="2.0"/>
<line x1="489.00" y1="365.60" x2="488.84" y2="372.60" stroke="#5c5c5c" stroke-width="2.0"/>
<line x1="488.85" y1="372.30" x2="488.61" y2="379.30" stroke="#666666" stroke-width="2.0"/>
<line x1="488.63" y1="379.00" x2="488.33" y2="386.00" stroke="#6f6f6f" stroke-width="2.0"/>
<line x1="488.34" y1="385.70" x2="487.99" y2="392.70" stroke="#767676" stroke-width="2.0"/>
<line x1="488.00" y1="392.40" x2="487.61" y2="399.40" stroke="#7b7b7b" stroke-width="2.0"/>
<line x1="487.62" y1="399.10" x2="487.20" y2="406.10" stroke="#7d7d7d" stroke-width="2.0"/>
<line x1="487.22" y1="405.80" x2="487.16" y2="412.80" stroke="#7c7c7c" stroke-width="2.0"/>
<line x1="487.14" y1="412.50" x2="487.56" y2="419.50" stroke="#797979" stroke-width="2.0"/>
<line x1="487.55" y1="419.20" x2="487.95" y2="426.20" stroke="#737373" stroke-width="2.0"/>
<rect x="325.6" y="265.1" width="1.8" height="160.79999999999995" fill="#1f1f1f"/>
</g>
<text class="s" x="361.44" y="440.40" font-size="10" text-anchor="middle" fill="#262626">100</text>
<text class="s" x="397.45" y="440.40" font-size="10" text-anchor="middle" fill="#262626">200</text>
<text class="s" x="433.47" y="440.40" font-size="10" text-anchor="middle" fill="#262626">300</text>
<text class="s" x="469.48" y="440.40" font-size="10" text-anchor="middle" fill="#262626">400</text>
<text class="s" x="505.50" y="440.40" font-size="10" text-anchor="middle" fill="#262626">500</text>
<text class="s" x="321.60" y="406.00" font-size="10" text-anchor="end" fill="#262626">20</text>
<text class="s" x="321.60" y="380.88" font-size="10" text-anchor="end" fill="#262626">40</text>
<text class="s" x="321.60" y="355.75" font-size="10" text-anchor="end" fill="#262626">60</text>
<text class="s" x="321.60" y="330.63" font-size="10" text-anchor="end" fill="#262626">80</text>
<text class="s" x="321.60" y="305.50" font-size="10" text-anchor="end" fill="#262626">100</text>
<text class="s" x="321.60" y="280.38" font-size="10" text-anchor="end" fill="#262626">120</text>
<text class="s" x="417.80" y="456.40" font-size="12" text-anchor="middle" fill="#262626">Pulse number</text>
<text class="s" x="299.30" y="345.50" font-size="12" text-anchor="middle" fill="#262626" transform="rotate(-90 299.30 345.50)">Range bin</text>
<rect x="519.3" y="265.1" width="10.700000000000045" height="160.79999999999995" fill="url(#cbg)"/>
<rect x="519.3" y="265.1" width="10.700000000000045" height="160.79999999999995" fill="none" stroke="#444" stroke-width="0.5"/>
<text class="s" x="533.50" y="429.20" font-size="9" text-anchor="start" fill="#262626">40</text>
<text class="s" x="533.50" y="395.98" font-size="9" text-anchor="start" fill="#262626">45</text>
<text class="s" x="533.50" y="362.75" font-size="9" text-anchor="start" fill="#262626">50</text>
<text class="s" x="533.50" y="329.53" font-size="9" text-anchor="start" fill="#262626">55</text>
<text class="s" x="533.50" y="296.31" font-size="9" text-anchor="start" fill="#262626">60</text>
<text class="s" x="524.65" y="259.30" font-size="9.5" text-anchor="middle" fill="#262626">dB</text>
<text class="r" x="420.00" y="478.00" font-size="13" text-anchor="middle" fill="#262626">(d)</text>
<filter id="jetf" filterUnits="userSpaceOnUse" x="325.6" y="513.3" width="184.39999999999998" height="161.20000000000005" color-interpolation-filters="sRGB">
<feTurbulence type="fractalNoise" baseFrequency="0.58 0.25" numOctaves="3" seed="9" result="n"/>
<feColorMatrix in="n" type="matrix" values="1 0 0 0 0  1 0 0 0 0  1 0 0 0 0  0 0 0 0 1" result="g0"/>
<feComponentTransfer in="g0" result="g">
<feFuncR type="gamma" amplitude="0.48" exponent="2.5" offset="0.092"/>
<feFuncG type="gamma" amplitude="0.48" exponent="2.5" offset="0.092"/>
<feFuncB type="gamma" amplitude="0.48" exponent="2.5" offset="0.092"/>
</feComponentTransfer>
<feGaussianBlur in="g" stdDeviation="0.4 0.55" result="gb"/>
<feComposite in="SourceGraphic" in2="gb" operator="arithmetic" k1="0.45" k2="1" k3="1" k4="0" result="s"/>
<feComponentTransfer in="s">
<feFuncR type="table" tableValues="0 0 0 0 0.5 1 1 1 0.5"/>
<feFuncG type="table" tableValues="0 0 0.5 1 1 1 0.5 0 0"/>
<feFuncB type="table" tableValues="0.5 1 1 1 0.5 0 0 0 0"/>
</feComponentTransfer>
<feColorMatrix type="saturate" values="0.82"/>
</filter>
<g filter="url(#jetf)">
<rect x="325.6" y="513.3" width="184.39999999999998" height="161.20000000000005" fill="#000"/>
<rect x="325.6" y="573.78" width="184.39999999999998" height="1.2" fill="#0d0d0d"/>
<rect x="325.6" y="598.97" width="184.39999999999998" height="1.2" fill="#0a0a0a"/>
<rect x="325.6" y="548.59" width="184.39999999999998" height="1.2" fill="#050505"/>
<rect x="325.6" y="627.93" width="184.39999999999998" height="1.2" fill="#080808"/>
<polyline points="325.78,639.11 327.22,639.34 328.66,639.57 330.10,639.80 331.54,640.02 332.98,640.24 334.42,640.45 335.86,640.66 337.31,640.85 338.75,641.04 340.19,641.23 341.63,641.40 341.63,641.40" fill="none" stroke="#707070" stroke-width="1.6"/>
<polyline points="341.63,641.40 343.07,641.57 344.51,641.74 345.95,641.90 347.39,642.05 348.83,642.19 350.27,642.33 351.71,642.47 352.43,642.53" fill="none" stroke="#262626" stroke-width="1.6"/>
<polyline points="352.43,642.53 353.87,642.66 355.31,642.77 356.75,642.89 358.19,642.99 359.63,643.10 361.08,643.19 362.52,643.28 363.96,643.37 365.40,643.45 366.84,643.53 368.28,643.60 369.72,643.67 371.16,643.73 372.60,643.78 374.04,643.83 375.48,643.87 376.92,643.89 378.36,643.90 379.44,643.89" fill="none" stroke="#171717" stroke-width="1.6"/>
<polyline points="379.44,643.89 380.88,643.87 382.32,643.83 383.77,643.78 385.21,643.70 386.65,643.61 386.65,643.61" fill="none" stroke="#292929" stroke-width="1.6"/>
<polyline points="386.65,643.61 388.09,643.50 389.53,643.38 390.97,643.24 392.41,643.09 393.13,643.01" fill="none" stroke="#666666" stroke-width="1.6"/>
<polyline points="393.13,643.01 394.57,642.84 396.01,642.66 397.45,642.47 398.89,642.27 400.33,642.05 401.77,641.82 403.21,641.58 404.65,641.33 406.09,641.07 406.82,640.93" fill="none" stroke="#9e9e9e" stroke-width="2.2"/>
<polyline points="406.82,640.93 408.26,640.64 409.70,640.34 411.14,640.03 411.86,639.87" fill="none" stroke="#757575" stroke-width="1.6"/>
<polyline points="411.86,639.87 413.30,639.53 414.74,639.18 416.18,638.82 417.62,638.45 419.06,638.06 420.50,637.67 421.94,637.26 423.38,636.84 424.82,636.42 426.26,635.98 427.70,635.53 429.14,635.08 430.59,634.61 432.03,634.14 433.47,633.66 434.91,633.18 436.35,632.69 437.79,632.20 439.23,631.70 440.67,631.20 442.11,630.70 443.55,630.19 444.27,629.94" fill="none" stroke="#707070" stroke-width="1.6"/>
<polyline points="444.27,629.94 445.71,629.44 447.15,628.94 448.59,628.44 450.03,627.95 451.47,627.46 451.47,627.46" fill="none" stroke="#333333" stroke-width="1.6"/>
<polyline points="451.47,627.46 452.92,626.98 454.36,626.50 455.80,626.02 457.24,625.55 458.68,625.09 460.12,624.64 461.56,624.19 463.00,623.74 464.44,623.30 465.88,622.86 467.32,622.42 468.76,621.98 469.48,621.77" fill="none" stroke="#575757" stroke-width="1.6"/>
<polyline points="469.48,621.77 470.92,621.33 472.36,620.88 473.80,620.44 475.24,619.99 476.69,619.53 478.13,619.07 479.57,618.60 480.29,618.37" fill="none" stroke="#383838" stroke-width="1.6"/>
<rect x="341.32" y="513.3" width="6.6" height="161.20000000000005" fill="#141414"/>
<polyline points="342.17,513.30 342.21,520.02 342.33,526.73 342.52,533.45 342.78,540.17 343.10,546.88 343.46,553.60 343.86,560.32 344.27,567.03 343.86,573.75 343.46,580.47 343.10,587.18 342.78,593.90 342.52,600.62 342.33,607.33 342.21,614.05 342.17,620.77 342.21,627.48 342.33,634.20 342.52,640.92 342.78,647.63 343.10,654.35 343.46,661.07 343.86,667.78 344.27,674.50" fill="none" stroke="#5c5c5c" stroke-width="2.8"/>
<polyline points="347.07,513.30 347.03,520.02 346.91,526.73 346.71,533.45 346.45,540.17 346.13,546.88 345.77,553.60 345.38,560.32 344.97,567.03 345.38,573.75 345.77,580.47 346.13,587.18 346.45,593.90 346.71,600.62 346.91,607.33 347.03,614.05 347.07,620.77 347.03,627.48 346.91,634.20 346.71,640.92 346.45,647.63 346.13,654.35 345.77,661.07 345.38,667.78 344.97,674.50" fill="none" stroke="#5c5c5c" stroke-width="2.8"/>
<line x1="342.17" y1="513.30" x2="342.21" y2="520.32" stroke="#494949" stroke-width="1.6"/>
<line x1="342.21" y1="520.02" x2="342.33" y2="527.03" stroke="#525252" stroke-width="1.6"/>
<line x1="342.33" y1="526.73" x2="342.53" y2="533.75" stroke="#5c5c5c" stroke-width="1.6"/>
<line x1="342.52" y1="533.45" x2="342.79" y2="540.47" stroke="#676767" stroke-width="1.6"/>
<line x1="342.78" y1="540.17" x2="343.11" y2="547.18" stroke="#737373" stroke-width="1.6"/>
<line x1="343.10" y1="546.88" x2="343.48" y2="553.90" stroke="#7d7d7d" stroke-width="1.6"/>
<line x1="343.46" y1="553.60" x2="343.87" y2="560.62" stroke="#858585" stroke-width="1.6"/>
<line x1="343.86" y1="560.32" x2="344.25" y2="567.33" stroke="#8b8b8b" stroke-width="1.6"/>
<line x1="344.27" y1="567.03" x2="343.84" y2="574.05" stroke="#8e8e8e" stroke-width="1.6"/>
<line x1="343.86" y1="573.75" x2="343.45" y2="580.77" stroke="#8e8e8e" stroke-width="1.6"/>
<line x1="343.46" y1="580.47" x2="343.08" y2="587.48" stroke="#8a8a8a" stroke-width="1.6"/>
<line x1="343.10" y1="587.18" x2="342.77" y2="594.20" stroke="#848484" stroke-width="1.6"/>
<line x1="342.78" y1="593.90" x2="342.51" y2="600.92" stroke="#7b7b7b" stroke-width="1.6"/>
<line x1="342.52" y1="600.62" x2="342.32" y2="607.63" stroke="#707070" stroke-width="1.6"/>
<line x1="342.33" y1="607.33" x2="342.20" y2="614.35" stroke="#656565" stroke-width="1.6"/>
<line x1="342.21" y1="614.05" x2="342.17" y2="621.07" stroke="#5a5a5a" stroke-width="1.6"/>
<line x1="342.17" y1="620.77" x2="342.21" y2="627.78" stroke="#505050" stroke-width="1.6"/>
<line x1="342.21" y1="627.48" x2="342.33" y2="634.50" stroke="#494949" stroke-width="1.6"/>
<line x1="342.33" y1="634.20" x2="342.53" y2="641.22" stroke="#444444" stroke-width="1.6"/>
<line x1="342.52" y1="640.92" x2="342.79" y2="647.93" stroke="#424242" stroke-width="1.6"/>
<line x1="342.78" y1="647.63" x2="343.11" y2="654.65" stroke="#434343" stroke-width="1.6"/>
<line x1="343.10" y1="654.35" x2="343.48" y2="661.37" stroke="#484848" stroke-width="1.6"/>
<line x1="343.46" y1="661.07" x2="343.87" y2="668.08" stroke="#505050" stroke-width="1.6"/>
<line x1="343.86" y1="667.78" x2="344.25" y2="674.80" stroke="#595959" stroke-width="1.6"/>
<line x1="347.07" y1="513.30" x2="347.02" y2="520.32" stroke="#a4a4a4" stroke-width="2.0"/>
<line x1="347.03" y1="520.02" x2="346.90" y2="527.03" stroke="#a6a6a6" stroke-width="2.0"/>
<line x1="346.91" y1="526.73" x2="346.70" y2="533.75" stroke="#a5a5a5" stroke-width="2.0"/>
<line x1="346.71" y1="533.45" x2="346.44" y2="540.47" stroke="#a1a1a1" stroke-width="2.0"/>
<line x1="346.45" y1="540.17" x2="346.12" y2="547.18" stroke="#989898" stroke-width="2.0"/>
<line x1="346.13" y1="546.88" x2="345.75" y2="553.90" stroke="#8d8d8d" stroke-width="2.0"/>
<line x1="345.77" y1="553.60" x2="345.36" y2="560.62" stroke="#818181" stroke-width="2.0"/>
<line x1="345.38" y1="560.32" x2="344.98" y2="567.33" stroke="#737373" stroke-width="2.0"/>
<line x1="344.97" y1="567.03" x2="345.39" y2="574.05" stroke="#666666" stroke-width="2.0"/>
<line x1="345.38" y1="573.75" x2="345.79" y2="580.77" stroke="#5a5a5a" stroke-width="2.0"/>
<line x1="345.77" y1="580.47" x2="346.15" y2="587.48" stroke="#515151" stroke-width="2.0"/>
<line x1="346.13" y1="587.18" x2="346.46" y2="594.20" stroke="#4a4a4a" stroke-width="2.0"/>
<line x1="346.45" y1="593.90" x2="346.72" y2="600.92" stroke="#474747" stroke-width="2.0"/>
<line x1="346.71" y1="600.62" x2="346.91" y2="607.63" stroke="#484848" stroke-width="2.0"/>
<line x1="346.91" y1="607.33" x2="347.03" y2="614.35" stroke="#4c4c4c" stroke-width="2.0"/>
<line x1="347.03" y1="614.05" x2="347.07" y2="621.07" stroke="#535353" stroke-width="2.0"/>
<line x1="347.07" y1="620.77" x2="347.02" y2="627.78" stroke="#5c5c5c" stroke-width="2.0"/>
<line x1="347.03" y1="627.48" x2="346.90" y2="634.50" stroke="#676767" stroke-width="2.0"/>
<line x1="346.91" y1="634.20" x2="346.70" y2="641.22" stroke="#727272" stroke-width="2.0"/>
<line x1="346.71" y1="640.92" x2="346.44" y2="647.93" stroke="#7d7d7d" stroke-width="2.0"/>
<line x1="346.45" y1="647.63" x2="346.12" y2="654.65" stroke="#878787" stroke-width="2.0"/>
<line x1="346.13" y1="654.35" x2="345.75" y2="661.37" stroke="#8e8e8e" stroke-width="2.0"/>
<line x1="345.77" y1="661.07" x2="345.36" y2="668.08" stroke="#929292" stroke-width="2.0"/>
<line x1="345.38" y1="667.78" x2="344.98" y2="674.80" stroke="#929292" stroke-width="2.0"/>
<rect x="411.26" y="513.3" width="6.6" height="161.20000000000005" fill="#141414"/>
<polyline points="412.97,513.30 413.33,520.02 413.72,526.73 414.13,533.45 413.88,540.17 413.48,546.88 413.11,553.60 412.78,560.32 412.51,567.03 412.30,573.75 412.17,580.47 412.11,587.18 412.13,593.90 412.24,600.62 412.42,607.33 412.67,614.05 412.97,620.77 413.33,627.48 413.72,634.20 414.13,640.92 413.88,647.63 413.48,654.35 413.11,661.07 412.78,667.78 412.51,674.50" fill="none" stroke="#616161" stroke-width="2.8"/>
<polyline points="416.14,513.30 415.79,520.02 415.40,526.73 414.99,533.45 415.24,540.17 415.64,546.88 416.01,553.60 416.33,560.32 416.61,567.03 416.82,573.75 416.95,580.47 417.01,587.18 416.98,593.90 416.88,600.62 416.70,607.33 416.45,614.05 416.14,620.77 415.79,627.48 415.40,634.20 414.99,640.92 415.24,647.63 415.64,654.35 416.01,661.07 416.33,667.78 416.61,674.50" fill="none" stroke="#616161" stroke-width="2.8"/>
<line x1="412.97" y1="513.30" x2="413.35" y2="520.32" stroke="#878787" stroke-width="1.6"/>
<line x1="413.33" y1="520.02" x2="413.74" y2="527.03" stroke="#909090" stroke-width="1.6"/>
<line x1="413.72" y1="526.73" x2="414.14" y2="533.75" stroke="#969696" stroke-width="1.6"/>
<line x1="414.13" y1="533.45" x2="413.86" y2="540.47" stroke="#989898" stroke-width="1.6"/>
<line x1="413.88" y1="540.17" x2="413.46" y2="547.18" stroke="#979797" stroke-width="1.6"/>
<line x1="413.48" y1="546.88" x2="413.10" y2="553.90" stroke="#939393" stroke-width="1.6"/>
<line x1="413.11" y1="553.60" x2="412.77" y2="560.62" stroke="#8c8c8c" stroke-width="1.6"/>
<line x1="412.78" y1="560.32" x2="412.50" y2="567.33" stroke="#828282" stroke-width="1.6"/>
<line x1="412.51" y1="567.03" x2="412.29" y2="574.05" stroke="#767676" stroke-width="1.6"/>
<line x1="412.30" y1="573.75" x2="412.16" y2="580.77" stroke="#6a6a6a" stroke-width="1.6"/>
<line x1="412.17" y1="580.47" x2="412.11" y2="587.48" stroke="#5f5f5f" stroke-width="1.6"/>
<line x1="412.11" y1="587.18" x2="412.14" y2="594.20" stroke="#555555" stroke-width="1.6"/>
<line x1="412.13" y1="593.90" x2="412.24" y2="600.92" stroke="#4d4d4d" stroke-width="1.6"/>
<line x1="412.24" y1="600.62" x2="412.43" y2="607.63" stroke="#484848" stroke-width="1.6"/>
<line x1="412.42" y1="607.33" x2="412.68" y2="614.35" stroke="#464646" stroke-width="1.6"/>
<line x1="412.67" y1="614.05" x2="412.99" y2="621.07" stroke="#484848" stroke-width="1.6"/>
<line x1="412.97" y1="620.77" x2="413.35" y2="627.78" stroke="#4e4e4e" stroke-width="1.6"/>
<line x1="413.33" y1="627.48" x2="413.74" y2="634.50" stroke="#565656" stroke-width="1.6"/>
<line x1="413.72" y1="634.20" x2="414.14" y2="641.22" stroke="#616161" stroke-width="1.6"/>
<line x1="414.13" y1="640.92" x2="413.86" y2="647.93" stroke="#6d6d6d" stroke-width="1.6"/>
<line x1="413.88" y1="647.63" x2="413.46" y2="654.65" stroke="#7a7a7a" stroke-width="1.6"/>
<line x1="413.48" y1="654.35" x2="413.10" y2="661.37" stroke="#868686" stroke-width="1.6"/>
<line x1="413.11" y1="661.07" x2="412.77" y2="668.08" stroke="#909090" stroke-width="1.6"/>
<line x1="412.78" y1="667.78" x2="412.50" y2="674.80" stroke="#989898" stroke-width="1.6"/>
<line x1="416.14" y1="513.30" x2="415.77" y2="520.32" stroke="#9a9a9a" stroke-width="2.0"/>
<line x1="415.79" y1="520.02" x2="415.38" y2="527.03" stroke="#8c8c8c" stroke-width="2.0"/>
<line x1="415.40" y1="526.73" x2="414.97" y2="533.75" stroke="#7d7d7d" stroke-width="2.0"/>
<line x1="414.99" y1="533.45" x2="415.26" y2="540.47" stroke="#6f6f6f" stroke-width="2.0"/>
<line x1="415.24" y1="540.17" x2="415.65" y2="547.18" stroke="#626262" stroke-width="2.0"/>
<line x1="415.64" y1="546.88" x2="416.02" y2="553.90" stroke="#585858" stroke-width="2.0"/>
<line x1="416.01" y1="553.60" x2="416.35" y2="560.62" stroke="#525252" stroke-width="2.0"/>
<line x1="416.33" y1="560.32" x2="416.62" y2="567.33" stroke="#4f4f4f" stroke-width="2.0"/>
<line x1="416.61" y1="567.03" x2="416.82" y2="574.05" stroke="#515151" stroke-width="2.0"/>
<line x1="416.82" y1="573.75" x2="416.95" y2="580.77" stroke="#565656" stroke-width="2.0"/>
<line x1="416.95" y1="580.47" x2="417.01" y2="587.48" stroke="#5e5e5e" stroke-width="2.0"/>
<line x1="417.01" y1="587.18" x2="416.98" y2="594.20" stroke="#696969" stroke-width="2.0"/>
<line x1="416.98" y1="593.90" x2="416.87" y2="600.92" stroke="#767676" stroke-width="2.0"/>
<line x1="416.88" y1="600.62" x2="416.69" y2="607.63" stroke="#838383" stroke-width="2.0"/>
<line x1="416.70" y1="607.33" x2="416.44" y2="614.35" stroke="#8f8f8f" stroke-width="2.0"/>
<line x1="416.45" y1="614.05" x2="416.13" y2="621.07" stroke="#9a9a9a" stroke-width="2.0"/>
<line x1="416.14" y1="620.77" x2="415.77" y2="627.78" stroke="#a1a1a1" stroke-width="2.0"/>
<line x1="415.79" y1="627.48" x2="415.38" y2="634.50" stroke="#a6a6a6" stroke-width="2.0"/>
<line x1="415.40" y1="634.20" x2="414.97" y2="641.22" stroke="#a7a7a7" stroke-width="2.0"/>
<line x1="414.99" y1="640.92" x2="415.26" y2="647.93" stroke="#a3a3a3" stroke-width="2.0"/>
<line x1="415.24" y1="647.63" x2="415.65" y2="654.65" stroke="#9d9d9d" stroke-width="2.0"/>
<line x1="415.64" y1="654.35" x2="416.02" y2="661.37" stroke="#939393" stroke-width="2.0"/>
<line x1="416.01" y1="661.07" x2="416.35" y2="668.08" stroke="#878787" stroke-width="2.0"/>
<line x1="416.33" y1="667.78" x2="416.62" y2="674.80" stroke="#7a7a7a" stroke-width="2.0"/>
<rect x="483.33" y="513.3" width="6.6" height="161.20000000000005" fill="#141414"/>
<polyline points="484.40,513.30 484.63,520.02 484.91,526.73 485.25,533.45 485.63,540.17 486.03,546.88 486.11,553.60 485.71,560.32 485.32,567.03 484.98,573.75 484.68,580.47 484.44,587.18 484.28,593.90 484.19,600.62 484.18,607.33 484.25,614.05 484.40,620.77 484.63,627.48 484.91,634.20 485.25,640.92 485.63,647.63 486.03,654.35 486.11,661.07 485.71,667.78 485.32,674.50" fill="none" stroke="#525252" stroke-width="2.8"/>
<polyline points="488.85,513.30 488.63,520.02 488.34,526.73 488.00,533.45 487.62,540.17 487.22,546.88 487.14,553.60 487.55,560.32 487.93,567.03 488.28,573.75 488.57,580.47 488.81,587.18 488.97,593.90 489.06,600.62 489.07,607.33 489.00,614.05 488.85,620.77 488.63,627.48 488.34,634.20 488.00,640.92 487.62,647.63 487.22,654.35 487.14,661.07 487.55,667.78 487.93,674.50" fill="none" stroke="#525252" stroke-width="2.8"/>
<line x1="484.40" y1="513.30" x2="484.64" y2="520.32" stroke="#565656" stroke-width="1.6"/>
<line x1="484.63" y1="520.02" x2="484.93" y2="527.03" stroke="#606060" stroke-width="1.6"/>
<line x1="484.91" y1="526.73" x2="485.27" y2="533.75" stroke="#6a6a6a" stroke-width="1.6"/>
<line x1="485.25" y1="533.45" x2="485.64" y2="540.47" stroke="#727272" stroke-width="1.6"/>
<line x1="485.63" y1="540.17" x2="486.05" y2="547.18" stroke="#787878" stroke-width="1.6"/>
<line x1="486.03" y1="546.88" x2="486.09" y2="553.90" stroke="#7c7c7c" stroke-width="1.6"/>
<line x1="486.11" y1="553.60" x2="485.69" y2="560.62" stroke="#7d7d7d" stroke-width="1.6"/>
<line x1="485.71" y1="560.32" x2="485.31" y2="567.33" stroke="#7b7b7b" stroke-width="1.6"/>
<line x1="485.32" y1="567.03" x2="484.96" y2="574.05" stroke="#767676" stroke-width="1.6"/>
<line x1="484.98" y1="573.75" x2="484.67" y2="580.77" stroke="#6f6f6f" stroke-width="1.6"/>
<line x1="484.68" y1="580.47" x2="484.43" y2="587.48" stroke="#676767" stroke-width="1.6"/>
<line x1="484.44" y1="587.18" x2="484.27" y2="594.20" stroke="#5d5d5d" stroke-width="1.6"/>
<line x1="484.28" y1="593.90" x2="484.19" y2="600.92" stroke="#535353" stroke-width="1.6"/>
<line x1="484.19" y1="600.62" x2="484.18" y2="607.63" stroke="#4a4a4a" stroke-width="1.6"/>
<line x1="484.18" y1="607.33" x2="484.26" y2="614.35" stroke="#434343" stroke-width="1.6"/>
<line x1="484.25" y1="614.05" x2="484.41" y2="621.07" stroke="#3d3d3d" stroke-width="1.6"/>
<line x1="484.40" y1="620.77" x2="484.64" y2="627.78" stroke="#3a3a3a" stroke-width="1.6"/>
<line x1="484.63" y1="627.48" x2="484.93" y2="634.50" stroke="#3a3a3a" stroke-width="1.6"/>
<line x1="484.91" y1="634.20" x2="485.27" y2="641.22" stroke="#3d3d3d" stroke-width="1.6"/>
<line x1="485.25" y1="640.92" x2="485.64" y2="647.93" stroke="#434343" stroke-width="1.6"/>
<line x1="485.63" y1="647.63" x2="486.05" y2="654.65" stroke="#4b4b4b" stroke-width="1.6"/>
<line x1="486.03" y1="654.35" x2="486.09" y2="661.37" stroke="#545454" stroke-width="1.6"/>
<line x1="486.11" y1="661.07" x2="485.69" y2="668.08" stroke="#5f5f5f" stroke-width="1.6"/>
<line x1="485.71" y1="667.78" x2="485.31" y2="674.80" stroke="#696969" stroke-width="1.6"/>
<line x1="488.85" y1="513.30" x2="488.61" y2="520.32" stroke="#848484" stroke-width="2.0"/>
<line x1="488.63" y1="520.02" x2="488.33" y2="527.03" stroke="#7f7f7f" stroke-width="2.0"/>
<line x1="488.34" y1="526.73" x2="487.99" y2="533.75" stroke="#777777" stroke-width="2.0"/>
<line x1="488.00" y1="533.45" x2="487.61" y2="540.47" stroke="#6e6e6e" stroke-width="2.0"/>
<line x1="487.62" y1="540.17" x2="487.20" y2="547.18" stroke="#636363" stroke-width="2.0"/>
<line x1="487.22" y1="546.88" x2="487.16" y2="553.90" stroke="#585858" stroke-width="2.0"/>
<line x1="487.14" y1="553.60" x2="487.56" y2="560.62" stroke="#4e4e4e" stroke-width="2.0"/>
<line x1="487.55" y1="560.32" x2="487.95" y2="567.33" stroke="#464646" stroke-width="2.0"/>
<line x1="487.93" y1="567.03" x2="488.29" y2="574.05" stroke="#3f3f3f" stroke-width="2.0"/>
<line x1="488.28" y1="573.75" x2="488.58" y2="580.77" stroke="#3c3c3c" stroke-width="2.0"/>
<line x1="488.57" y1="580.47" x2="488.82" y2="587.48" stroke="#3b3b3b" stroke-width="2.0"/>
<line x1="488.81" y1="587.18" x2="488.98" y2="594.20" stroke="#3d3d3d" stroke-width="2.0"/>
<line x1="488.97" y1="593.90" x2="489.06" y2="600.92" stroke="#424242" stroke-width="2.0"/>
<line x1="489.06" y1="600.62" x2="489.07" y2="607.63" stroke="#4a4a4a" stroke-width="2.0"/>
<line x1="489.07" y1="607.33" x2="488.99" y2="614.35" stroke="#535353" stroke-width="2.0"/>
<line x1="489.00" y1="614.05" x2="488.84" y2="621.07" stroke="#5c5c5c" stroke-width="2.0"/>
<line x1="488.85" y1="620.77" x2="488.61" y2="627.78" stroke="#666666" stroke-width="2.0"/>
<line x1="488.63" y1="627.48" x2="488.33" y2="634.50" stroke="#6f6f6f" stroke-width="2.0"/>
<line x1="488.34" y1="634.20" x2="487.99" y2="641.22" stroke="#767676" stroke-width="2.0"/>
<line x1="488.00" y1="640.92" x2="487.61" y2="647.93" stroke="#7b7b7b" stroke-width="2.0"/>
<line x1="487.62" y1="647.63" x2="487.20" y2="654.65" stroke="#7d7d7d" stroke-width="2.0"/>
<line x1="487.22" y1="654.35" x2="487.16" y2="661.37" stroke="#7c7c7c" stroke-width="2.0"/>
<line x1="487.14" y1="661.07" x2="487.56" y2="668.08" stroke="#797979" stroke-width="2.0"/>
<line x1="487.55" y1="667.78" x2="487.95" y2="674.80" stroke="#737373" stroke-width="2.0"/>
<rect x="325.6" y="513.3" width="1.8" height="161.20000000000005" fill="#1f1f1f"/>
</g>
<text class="s" x="361.44" y="689.00" font-size="10" text-anchor="middle" fill="#262626">100</text>
<text class="s" x="397.45" y="689.00" font-size="10" text-anchor="middle" fill="#262626">200</text>
<text class="s" x="433.47" y="689.00" font-size="10" text-anchor="middle" fill="#262626">300</text>
<text class="s" x="469.48" y="689.00" font-size="10" text-anchor="middle" fill="#262626">400</text>
<text class="s" x="505.50" y="689.00" font-size="10" text-anchor="middle" fill="#262626">500</text>
<text class="s" x="321.60" y="654.54" font-size="10" text-anchor="end" fill="#262626">20</text>
<text class="s" x="321.60" y="629.35" font-size="10" text-anchor="end" fill="#262626">40</text>
<text class="s" x="321.60" y="604.17" font-size="10" text-anchor="end" fill="#262626">60</text>
<text class="s" x="321.60" y="578.98" font-size="10" text-anchor="end" fill="#262626">80</text>
<text class="s" x="321.60" y="553.79" font-size="10" text-anchor="end" fill="#262626">100</text>
<text class="s" x="321.60" y="528.60" font-size="10" text-anchor="end" fill="#262626">120</text>
<text class="s" x="417.80" y="705.00" font-size="12" text-anchor="middle" fill="#262626">Pulse number</text>
<text class="s" x="299.30" y="593.90" font-size="12" text-anchor="middle" fill="#262626" transform="rotate(-90 299.30 593.90)">Range bin</text>
<rect x="519.3" y="513.3" width="10.700000000000045" height="161.20000000000005" fill="url(#cbg)"/>
<rect x="519.3" y="513.3" width="10.700000000000045" height="161.20000000000005" fill="none" stroke="#444" stroke-width="0.5"/>
<text class="s" x="533.50" y="677.80" font-size="9" text-anchor="start" fill="#262626">40</text>
<text class="s" x="533.50" y="644.49" font-size="9" text-anchor="start" fill="#262626">45</text>
<text class="s" x="533.50" y="611.19" font-size="9" text-anchor="start" fill="#262626">50</text>
<text class="s" x="533.50" y="577.88" font-size="9" text-anchor="start" fill="#262626">55</text>
<text class="s" x="533.50" y="544.58" font-size="9" text-anchor="start" fill="#262626">60</text>
<text class="s" x="524.65" y="507.50" font-size="9.5" text-anchor="middle" fill="#262626">dB</text>
<text class="r" x="420.00" y="726.00" font-size="13" text-anchor="middle" fill="#262626">(f)</text>
<clipPath id="clipb"><rect x="322.5" y="16.5" width="218.29999999999995" height="161.3"/></clipPath>
<rect x="323.5" y="16.5" width="216.29999999999995" height="160.8" fill="#fff"/>
<line x1="355.86" y1="16.5" x2="355.86" y2="177.3" stroke="#e2e2e2" stroke-width="0.8"/>
<text class="s" x="355.86" y="191.80" font-size="10" text-anchor="middle" fill="#262626">20</text>
<line x1="389.92" y1="16.5" x2="389.92" y2="177.3" stroke="#e2e2e2" stroke-width="0.8"/>
<text class="s" x="389.92" y="191.80" font-size="10" text-anchor="middle" fill="#262626">40</text>
<line x1="423.99" y1="16.5" x2="423.99" y2="177.3" stroke="#e2e2e2" stroke-width="0.8"/>
<text class="s" x="423.99" y="191.80" font-size="10" text-anchor="middle" fill="#262626">60</text>
<line x1="458.05" y1="16.5" x2="458.05" y2="177.3" stroke="#e2e2e2" stroke-width="0.8"/>
<text class="s" x="458.05" y="191.80" font-size="10" text-anchor="middle" fill="#262626">80</text>
<line x1="492.11" y1="16.5" x2="492.11" y2="177.3" stroke="#e2e2e2" stroke-width="0.8"/>
<text class="s" x="492.11" y="191.80" font-size="10" text-anchor="middle" fill="#262626">100</text>
<line x1="526.17" y1="16.5" x2="526.17" y2="177.3" stroke="#e2e2e2" stroke-width="0.8"/>
<text class="s" x="526.17" y="191.80" font-size="10" text-anchor="middle" fill="#262626">120</text>
<text class="s" x="319.20" y="181.60" font-size="10" text-anchor="end" fill="#262626">30</text>
<line x1="323.5" y1="137.10" x2="539.8" y2="137.10" stroke="#e2e2e2" stroke-width="0.8"/>
<text class="s" x="319.20" y="141.40" font-size="10" text-anchor="end" fill="#262626">40</text>
<line x1="323.5" y1="96.90" x2="539.8" y2="96.90" stroke="#e2e2e2" stroke-width="0.8"/>
<text class="s" x="319.20" y="101.20" font-size="10" text-anchor="end" fill="#262626">50</text>
<line x1="323.5" y1="56.70" x2="539.8" y2="56.70" stroke="#e2e2e2" stroke-width="0.8"/>
<text class="s" x="319.20" y="61.00" font-size="10" text-anchor="end" fill="#262626">60</text>
<text class="s" x="319.20" y="20.80" font-size="10" text-anchor="end" fill="#262626">70</text>
<rect x="323.5" y="16.5" width="216.29999999999995" height="160.8" fill="none" stroke="#262626" stroke-width="0.6" opacity="0.85"/>
<g clip-path="url(#clipb)">
<polyline points="323.50,121.02 325.20,121.82 326.91,129.06 328.95,100.12 330.82,100.12 332.02,114.19 335.08,78.81 337.13,104.94 338.83,133.08 342.06,100.92 343.94,125.84 345.64,121.02 348.03,114.19 349.73,114.99 353.82,145.54 356.20,133.88 359.95,153.98 361.82,134.29 363.52,149.16 365.23,137.10 366.76,135.89 368.63,133.08 371.53,177.30 373.74,129.06 376.30,93.68 378.00,112.98 380.21,145.14 382.77,107.35 386.01,113.78 389.24,114.19 393.67,133.88 397.93,181.32 400.14,143.13 402.36,181.32 405.59,114.19 407.64,157.20 409.85,130.67 413.77,171.67 418.02,115.79 421.26,109.36 422.96,125.84 426.20,151.97 429.44,109.36 432.50,132.28 435.91,145.54 438.46,123.83 443.23,121.42 447.49,140.32 449.87,135.49 452.43,140.32 455.49,139.11 458.05,112.58 460.60,111.77 461.97,102.53 465.20,96.90 466.91,98.51 469.97,124.24 473.38,95.29 477.64,160.42 480.87,106.95 482.57,106.15 487.34,139.11 489.05,107.75 492.11,130.67 494.16,143.13 495.52,127.45 497.22,157.20 501.14,112.58 502.67,114.19 505.23,133.88 510.17,110.97 512.55,121.02 515.79,107.75 519.87,181.32 521.58,122.63 523.96,181.32 529.58,113.38 534.35,181.32 536.56,157.20 539.80,157.20" fill="none" stroke="#ff0000" stroke-width="1.9" stroke-linejoin="round"/>
<polyline points="323.50,140.32 324.35,140.72 328.61,127.45 330.82,146.35 335.76,73.18 338.83,108.96 339.85,114.19 341.38,107.75 343.09,114.19 345.64,125.84 348.03,129.06 351.26,175.29 353.82,125.84 356.20,117.80 358.41,129.06 361.14,117.40 363.52,142.73 366.76,55.90 371.02,179.31 373.74,158.00 375.45,153.18 380.56,118.61 386.01,90.87 388.22,109.36 390.26,107.35 395.71,181.32 400.14,142.73 405.59,107.35 408.66,141.12 413.09,179.31 418.02,115.79 421.26,179.31 424.50,84.84 427.73,133.88 430.29,125.84 431.99,133.88 437.61,175.29 443.23,110.97 446.64,150.37 449.53,113.38 451.58,158.81 453.11,121.02 455.66,178.10 459.41,114.99 462.82,155.19 465.37,104.94 469.29,179.31 475.08,104.14 480.02,147.15 484.11,107.75 487.34,129.06 490.58,148.76 497.90,110.97 499.78,119.01 502.16,114.19 506.08,143.93 510.17,107.75 513.40,124.24 516.64,130.67 519.02,179.31 524.81,107.75 528.90,179.31 535.03,91.27 537.07,95.29 539.80,95.29" fill="none" stroke="#0000ff" stroke-width="1.7" stroke-linejoin="round" stroke-dasharray="4 1.4 1.4 1.4"/>
<polyline points="323.50,177.30 324.69,121.02 326.91,130.67 329.29,125.84 334.91,77.20 337.98,117.00 341.04,158.81 346.49,97.70 349.73,140.72 352.11,102.93 353.82,114.19 355.86,99.31 359.61,129.06 361.99,116.60 366.76,151.17 371.53,97.30 373.40,96.10 376.98,69.56 380.56,89.66 382.77,107.35 384.98,116.20 389.24,102.93 391.46,111.77 395.37,88.86 396.91,96.50 401.16,116.20 404.57,114.19 405.76,132.28 408.15,112.98 410.70,133.88 413.09,129.06 415.47,99.31 418.88,133.88 421.09,157.20 422.96,177.30 425.35,117.40 427.73,114.19 430.29,104.54 435.23,165.24 438.46,129.06 443.23,114.19 446.13,165.24 449.02,130.67 452.94,125.84 454.64,137.10 457.20,125.84 460.43,143.93 463.67,117.40 465.37,125.84 470.14,106.95 473.38,132.28 477.64,114.19 480.02,109.36 483.26,114.19 485.64,122.63 489.05,110.97 492.45,99.31 496.71,157.60 500.46,93.68 504.37,163.63 506.93,129.06 510.17,109.36 512.55,122.63 517.49,153.58 520.72,116.60 526.52,162.02 528.90,125.84 531.28,139.11 535.03,103.33 537.07,116.60 539.80,116.60" fill="none" stroke="#00ff00" stroke-width="1.5" stroke-linejoin="round" stroke-dasharray="1.3 1.1"/>
</g>
<line x1="355.86" y1="177.3" x2="355.86" y2="175.10000000000002" stroke="#262626" stroke-width="0.6"/>
<line x1="355.86" y1="16.5" x2="355.86" y2="18.7" stroke="#262626" stroke-width="0.6"/>
<line x1="389.92" y1="177.3" x2="389.92" y2="175.10000000000002" stroke="#262626" stroke-width="0.6"/>
<line x1="389.92" y1="16.5" x2="389.92" y2="18.7" stroke="#262626" stroke-width="0.6"/>
<line x1="423.99" y1="177.3" x2="423.99" y2="175.10000000000002" stroke="#262626" stroke-width="0.6"/>
<line x1="423.99" y1="16.5" x2="423.99" y2="18.7" stroke="#262626" stroke-width="0.6"/>
<line x1="458.05" y1="177.3" x2="458.05" y2="175.10000000000002" stroke="#262626" stroke-width="0.6"/>
<line x1="458.05" y1="16.5" x2="458.05" y2="18.7" stroke="#262626" stroke-width="0.6"/>
<line x1="492.11" y1="177.3" x2="492.11" y2="175.10000000000002" stroke="#262626" stroke-width="0.6"/>
<line x1="492.11" y1="16.5" x2="492.11" y2="18.7" stroke="#262626" stroke-width="0.6"/>
<line x1="526.17" y1="177.3" x2="526.17" y2="175.10000000000002" stroke="#262626" stroke-width="0.6"/>
<line x1="526.17" y1="16.5" x2="526.17" y2="18.7" stroke="#262626" stroke-width="0.6"/>
<line x1="323.5" y1="137.10" x2="325.7" y2="137.10" stroke="#262626" stroke-width="0.6"/>
<line x1="539.8" y1="137.10" x2="537.5999999999999" y2="137.10" stroke="#262626" stroke-width="0.6"/>
<line x1="323.5" y1="96.90" x2="325.7" y2="96.90" stroke="#262626" stroke-width="0.6"/>
<line x1="539.8" y1="96.90" x2="537.5999999999999" y2="96.90" stroke="#262626" stroke-width="0.6"/>
<line x1="323.5" y1="56.70" x2="325.7" y2="56.70" stroke="#262626" stroke-width="0.6"/>
<line x1="539.8" y1="56.70" x2="537.5999999999999" y2="56.70" stroke="#262626" stroke-width="0.6"/>
<text class="s" x="430.00" y="208.00" font-size="12" text-anchor="middle" fill="#262626">Range bin</text>
<text class="s" x="302.50" y="97.00" font-size="12" text-anchor="middle" fill="#262626" transform="rotate(-90 302.50 97.00)">Amplitude (dB)</text>
<text class="r" x="420.00" y="230.00" font-size="13" text-anchor="middle" fill="#262626">(b)</text>
<rect x="371.5" y="21.7" width="163.2" height="14.7" fill="#fff" stroke="#4d4d4d" stroke-width="0.6"/>
<line x1="374" y1="28.9" x2="393" y2="28.9" stroke="#ff0000" stroke-width="1.9"/>
<text class="s" x="394.50" y="32.30" font-size="9.3" text-anchor="start" fill="#262626">m=100</text>
<line x1="428" y1="28.9" x2="447" y2="28.9" stroke="#0000ff" stroke-width="1.7" stroke-dasharray="4 1.4 1.4 1.4"/>
<text class="s" x="448.50" y="32.30" font-size="9.3" text-anchor="start" fill="#262626">m=200</text>
<line x1="482" y1="28.9" x2="501" y2="28.9" stroke="#00ff00" stroke-width="1.5" stroke-dasharray="1.3 1.1"/>
<text class="s" x="503.50" y="32.30" font-size="9.3" text-anchor="start" fill="#262626">m=300</text>
<text class="s" x="346.50" y="58.20" font-size="9.6" text-anchor="middle" fill="#262626">Clutter</text>
<text class="s" x="409.00" y="54.00" font-size="9.6" text-anchor="middle" fill="#262626">Target</text>
<line x1="345" y1="61.2" x2="338.4" y2="77" stroke="#000" stroke-width="0.7"/>
<polygon points="338.40,77.00 342.37,72.70 338.67,71.15" fill="#000"/>
<line x1="393" y1="50" x2="369" y2="53.6" stroke="#000" stroke-width="0.7"/>
<polygon points="369.00,53.60 374.74,54.76 374.14,50.81" fill="#000"/>
<line x1="392.4" y1="57.6" x2="379.6" y2="66.2" stroke="#000" stroke-width="0.7"/>
<polygon points="379.60,66.20 385.28,64.79 383.05,61.47" fill="#000"/>
<rect x="47.5" y="264.5" width="189.5" height="161.7" fill="#fff"/>
<line x1="84.21" y1="264.5" x2="84.21" y2="426.2" stroke="#e8e8e8" stroke-width="0.8"/>
<text class="s" x="84.21" y="440.70" font-size="10" text-anchor="middle" fill="#262626">100</text>
<line x1="121.30" y1="264.5" x2="121.30" y2="426.2" stroke="#e8e8e8" stroke-width="0.8"/>
<text class="s" x="121.30" y="440.70" font-size="10" text-anchor="middle" fill="#262626">200</text>
<line x1="158.38" y1="264.5" x2="158.38" y2="426.2" stroke="#e8e8e8" stroke-width="0.8"/>
<text class="s" x="158.38" y="440.70" font-size="10" text-anchor="middle" fill="#262626">300</text>
<line x1="195.47" y1="264.5" x2="195.47" y2="426.2" stroke="#e8e8e8" stroke-width="0.8"/>
<text class="s" x="195.47" y="440.70" font-size="10" text-anchor="middle" fill="#262626">400</text>
<line x1="232.55" y1="264.5" x2="232.55" y2="426.2" stroke="#e8e8e8" stroke-width="0.8"/>
<text class="s" x="232.55" y="440.70" font-size="10" text-anchor="middle" fill="#262626">500</text>
<line x1="47.5" y1="393.86" x2="237" y2="393.86" stroke="#ebebeb" stroke-width="0.7"/>
<line x1="47.5" y1="361.52" x2="237" y2="361.52" stroke="#ebebeb" stroke-width="0.7"/>
<line x1="47.5" y1="329.18" x2="237" y2="329.18" stroke="#ebebeb" stroke-width="0.7"/>
<line x1="47.5" y1="296.84" x2="237" y2="296.84" stroke="#ebebeb" stroke-width="0.7"/>
<text class="s" x="43.50" y="430.60" font-size="10.5" text-anchor="end" fill="#0072bd">223.5</text>
<line x1="47.5" y1="426.20" x2="49.7" y2="426.20" stroke="#0072bd" stroke-width="0.6"/>
<text class="s" x="43.50" y="390.17" font-size="10.5" text-anchor="end" fill="#0072bd">224</text>
<line x1="47.5" y1="385.77" x2="49.7" y2="385.77" stroke="#0072bd" stroke-width="0.6"/>
<text class="s" x="43.50" y="349.75" font-size="10.5" text-anchor="end" fill="#0072bd">224.5</text>
<line x1="47.5" y1="345.35" x2="49.7" y2="345.35" stroke="#0072bd" stroke-width="0.6"/>
<text class="s" x="43.50" y="309.32" font-size="10.5" text-anchor="end" fill="#0072bd">225</text>
<line x1="47.5" y1="304.93" x2="49.7" y2="304.93" stroke="#0072bd" stroke-width="0.6"/>
<text class="s" x="43.50" y="268.90" font-size="10.5" text-anchor="end" fill="#0072bd">225.5</text>
<line x1="47.5" y1="264.50" x2="49.7" y2="264.50" stroke="#0072bd" stroke-width="0.6"/>
<text class="s" x="241.00" y="430.60" font-size="10.5" text-anchor="start" fill="#d95319">16.2</text>
<line x1="237" y1="426.20" x2="234.8" y2="426.20" stroke="#d95319" stroke-width="0.6"/>
<text class="s" x="241.00" y="398.26" font-size="10.5" text-anchor="start" fill="#d95319">16.4</text>
<line x1="237" y1="393.86" x2="234.8" y2="393.86" stroke="#d95319" stroke-width="0.6"/>
<text class="s" x="241.00" y="365.92" font-size="10.5" text-anchor="start" fill="#d95319">16.6</text>
<line x1="237" y1="361.52" x2="234.8" y2="361.52" stroke="#d95319" stroke-width="0.6"/>
<text class="s" x="241.00" y="333.58" font-size="10.5" text-anchor="start" fill="#d95319">16.8</text>
<line x1="237" y1="329.18" x2="234.8" y2="329.18" stroke="#d95319" stroke-width="0.6"/>
<text class="s" x="241.00" y="301.24" font-size="10.5" text-anchor="start" fill="#d95319">17</text>
<line x1="237" y1="296.84" x2="234.8" y2="296.84" stroke="#d95319" stroke-width="0.6"/>
<text class="s" x="241.00" y="268.90" font-size="10.5" text-anchor="start" fill="#d95319">17.2</text>
<line x1="237" y1="264.50" x2="234.8" y2="264.50" stroke="#d95319" stroke-width="0.6"/>
<polyline points="47.50,343.60 62.30,343.60 62.30,386.00 171.90,386.00 171.90,343.60 191.30,343.60 191.30,302.60 219.30,302.60 219.30,343.60 237.00,343.60" fill="none" stroke="#0072bd" stroke-width="0.8" stroke-linejoin="round" opacity="0.55"/>
<polyline points="47.50,324.60 62.30,324.60 62.30,318.00 169.40,318.00 169.40,324.60 191.30,324.60 191.30,303.50 219.30,303.50 219.30,324.60 237.00,324.60" fill="none" stroke="#d95319" stroke-width="0.9" stroke-linejoin="round" opacity="0.45"/>
<line x1="47.5" y1="264.5" x2="237" y2="264.5" stroke="#262626" stroke-width="0.6" opacity="0.6"/>
<line x1="47.5" y1="426.2" x2="237" y2="426.2" stroke="#262626" stroke-width="0.6" opacity="0.6"/>
<line x1="47.5" y1="264.5" x2="47.5" y2="426.2" stroke="#0072bd" stroke-width="0.7" opacity="0.7"/>
<line x1="237" y1="264.5" x2="237" y2="426.2" stroke="#d95319" stroke-width="0.9" opacity="0.5"/>
<line x1="84.21" y1="426.2" x2="84.21" y2="424.0" stroke="#262626" stroke-width="0.6"/>
<line x1="84.21" y1="264.5" x2="84.21" y2="266.7" stroke="#262626" stroke-width="0.6"/>
<line x1="121.30" y1="426.2" x2="121.30" y2="424.0" stroke="#262626" stroke-width="0.6"/>
<line x1="121.30" y1="264.5" x2="121.30" y2="266.7" stroke="#262626" stroke-width="0.6"/>
<line x1="158.38" y1="426.2" x2="158.38" y2="424.0" stroke="#262626" stroke-width="0.6"/>
<line x1="158.38" y1="264.5" x2="158.38" y2="266.7" stroke="#262626" stroke-width="0.6"/>
<line x1="195.47" y1="426.2" x2="195.47" y2="424.0" stroke="#262626" stroke-width="0.6"/>
<line x1="195.47" y1="264.5" x2="195.47" y2="266.7" stroke="#262626" stroke-width="0.6"/>
<line x1="232.55" y1="426.2" x2="232.55" y2="424.0" stroke="#262626" stroke-width="0.6"/>
<line x1="232.55" y1="264.5" x2="232.55" y2="266.7" stroke="#262626" stroke-width="0.6"/>
<text class="s" x="142.00" y="456.00" font-size="12" text-anchor="middle" fill="#262626">Pulse number</text>
<text class="s" x="13.50" y="345.00" font-size="12" text-anchor="middle" fill="#0072bd" transform="rotate(-90 13.50 345.00)">Speed (m/s)</text>
<text class="s" x="276.00" y="345.00" font-size="12" text-anchor="middle" fill="#d95319" transform="rotate(-90 276.00 345.00)">Heading (°)</text>
<text class="r" x="134.00" y="478.00" font-size="13" text-anchor="middle" fill="#262626">(c)</text>
<clipPath id="clipe"><rect x="33.0" y="510.20000000000005" width="223.0" height="164.29999999999995"/></clipPath>
<rect x="36.0" y="513.2" width="217.0" height="161.29999999999995" fill="#fff"/>
<line x1="68.32" y1="513.2" x2="68.32" y2="674.5" stroke="#e2e2e2" stroke-width="0.8"/>
<text class="s" x="68.32" y="688.80" font-size="10" text-anchor="middle" fill="#262626">20</text>
<line x1="102.56" y1="513.2" x2="102.56" y2="674.5" stroke="#e2e2e2" stroke-width="0.8"/>
<text class="s" x="102.56" y="688.80" font-size="10" text-anchor="middle" fill="#262626">40</text>
<line x1="136.80" y1="513.2" x2="136.80" y2="674.5" stroke="#e2e2e2" stroke-width="0.8"/>
<text class="s" x="136.80" y="688.80" font-size="10" text-anchor="middle" fill="#262626">60</text>
<line x1="171.03" y1="513.2" x2="171.03" y2="674.5" stroke="#e2e2e2" stroke-width="0.8"/>
<text class="s" x="171.03" y="688.80" font-size="10" text-anchor="middle" fill="#262626">80</text>
<line x1="205.27" y1="513.2" x2="205.27" y2="674.5" stroke="#e2e2e2" stroke-width="0.8"/>
<text class="s" x="205.27" y="688.80" font-size="10" text-anchor="middle" fill="#262626">100</text>
<line x1="239.50" y1="513.2" x2="239.50" y2="674.5" stroke="#e2e2e2" stroke-width="0.8"/>
<text class="s" x="239.50" y="688.80" font-size="10" text-anchor="middle" fill="#262626">120</text>
<text class="s" x="32.40" y="517.40" font-size="10" text-anchor="end" fill="#262626">0</text>
<line x1="36.0" y1="566.97" x2="253.0" y2="566.97" stroke="#e2e2e2" stroke-width="0.8"/>
<text class="s" x="32.40" y="571.17" font-size="10" text-anchor="end" fill="#262626">-5</text>
<line x1="36.0" y1="620.73" x2="253.0" y2="620.73" stroke="#e2e2e2" stroke-width="0.8"/>
<text class="s" x="32.40" y="624.93" font-size="10" text-anchor="end" fill="#262626">-10</text>
<text class="s" x="32.40" y="678.70" font-size="10" text-anchor="end" fill="#262626">-15</text>
<g clip-path="url(#clipe)">
<polyline points="35.80,574.54 37.51,568.68 39.22,565.43 40.94,563.91 42.65,559.58 44.36,562.72 46.07,565.22 47.78,559.58 49.49,561.64 51.21,557.84 52.92,563.26 54.63,551.67 56.34,551.23 58.05,555.35 59.77,552.97 61.48,549.71 63.19,551.67 64.90,549.71 66.61,549.17 68.32,550.47 70.04,555.35 71.75,548.74 73.46,548.09 75.17,546.79 76.88,543.75 78.59,549.71 80.31,536.92 82.02,529.66 83.73,531.83 85.44,525.87 87.15,523.70 88.87,517.30 90.58,518.49 92.29,540.50 94.00,513.40 95.71,535.73 97.42,514.48 99.14,545.59 100.85,533.24 102.56,541.91 104.27,528.36 105.98,538.22 107.70,548.09 109.41,544.29 111.12,554.16 112.83,570.85 114.54,567.60 116.25,566.52 117.97,567.60 119.68,555.35 121.39,565.22 123.10,565.22 124.81,569.44 126.53,570.85 128.24,574.32 129.95,570.09 131.66,570.85 133.37,568.36 135.08,577.36 136.80,571.94 138.51,573.02 140.22,574.10 141.93,561.10 143.64,561.64 145.36,575.08 147.07,570.85 148.78,568.36 150.49,571.39 152.20,571.94 153.91,569.44 155.63,573.78 157.34,579.96 159.05,576.27 160.76,572.59 162.47,565.22 164.19,567.60 165.90,565.22 167.61,563.48 169.32,564.02 171.03,570.09 172.74,572.59 174.46,571.39 176.17,568.36 177.88,561.10 179.59,564.02 181.30,568.36 183.01,569.44 184.73,567.60 186.44,564.35 188.15,561.53 189.86,554.59 191.57,560.34 193.29,556.76 195.00,550.47 196.71,555.13 198.42,550.47 200.13,557.84 201.84,543.75 203.56,554.16 205.27,548.09 206.98,556.76 208.69,551.67 210.40,557.84 212.12,552.97 213.83,555.35 215.54,551.88 217.25,561.53 218.96,564.02 220.67,562.72 222.39,566.52 224.10,570.85 225.81,565.97 227.52,565.22 229.23,561.53 230.95,568.36 232.66,575.08 234.37,564.02 236.08,575.08 237.79,575.08 239.50,576.81 241.22,573.78 242.93,575.08 244.64,576.27 246.35,579.96 248.06,577.36 249.77,578.77 251.49,583.86 253.20,576.27" fill="none" stroke="#0000ff" stroke-width="1.2" stroke-linejoin="round"/>
<rect x="34.25" y="572.99" width="3.1" height="3.1" fill="none" stroke="#0000ff" stroke-width="1.4"/>
<rect x="35.96" y="567.13" width="3.1" height="3.1" fill="none" stroke="#0000ff" stroke-width="1.4"/>
<rect x="37.67" y="563.88" width="3.1" height="3.1" fill="none" stroke="#0000ff" stroke-width="1.4"/>
<rect x="39.39" y="562.36" width="3.1" height="3.1" fill="none" stroke="#0000ff" stroke-width="1.4"/>
<rect x="41.10" y="558.03" width="3.1" height="3.1" fill="none" stroke="#0000ff" stroke-width="1.4"/>
<rect x="42.81" y="561.17" width="3.1" height="3.1" fill="none" stroke="#0000ff" stroke-width="1.4"/>
<rect x="44.52" y="563.67" width="3.1" height="3.1" fill="none" stroke="#0000ff" stroke-width="1.4"/>
<rect x="46.23" y="558.03" width="3.1" height="3.1" fill="none" stroke="#0000ff" stroke-width="1.4"/>
<rect x="47.94" y="560.09" width="3.1" height="3.1" fill="none" stroke="#0000ff" stroke-width="1.4"/>
<rect x="49.66" y="556.29" width="3.1" height="3.1" fill="none" stroke="#0000ff" stroke-width="1.4"/>
<rect x="51.37" y="561.71" width="3.1" height="3.1" fill="none" stroke="#0000ff" stroke-width="1.4"/>
<rect x="53.08" y="550.12" width="3.1" height="3.1" fill="none" stroke="#0000ff" stroke-width="1.4"/>
<rect x="54.79" y="549.68" width="3.1" height="3.1" fill="none" stroke="#0000ff" stroke-width="1.4"/>
<rect x="56.50" y="553.80" width="3.1" height="3.1" fill="none" stroke="#0000ff" stroke-width="1.4"/>
<rect x="58.22" y="551.42" width="3.1" height="3.1" fill="none" stroke="#0000ff" stroke-width="1.4"/>
<rect x="59.93" y="548.16" width="3.1" height="3.1" fill="none" stroke="#0000ff" stroke-width="1.4"/>
<rect x="61.64" y="550.12" width="3.1" height="3.1" fill="none" stroke="#0000ff" stroke-width="1.4"/>
<rect x="63.35" y="548.16" width="3.1" height="3.1" fill="none" stroke="#0000ff" stroke-width="1.4"/>
<rect x="65.06" y="547.62" width="3.1" height="3.1" fill="none" stroke="#0000ff" stroke-width="1.4"/>
<rect x="66.77" y="548.92" width="3.1" height="3.1" fill="none" stroke="#0000ff" stroke-width="1.4"/>
<rect x="68.49" y="553.80" width="3.1" height="3.1" fill="none" stroke="#0000ff" stroke-width="1.4"/>
<rect x="70.20" y="547.19" width="3.1" height="3.1" fill="none" stroke="#0000ff" stroke-width="1.4"/>
<rect x="71.91" y="546.54" width="3.1" height="3.1" fill="none" stroke="#0000ff" stroke-width="1.4"/>
<rect x="73.62" y="545.24" width="3.1" height="3.1" fill="none" stroke="#0000ff" stroke-width="1.4"/>
<rect x="75.33" y="542.20" width="3.1" height="3.1" fill="none" stroke="#0000ff" stroke-width="1.4"/>
<rect x="77.05" y="548.16" width="3.1" height="3.1" fill="none" stroke="#0000ff" stroke-width="1.4"/>
<rect x="78.76" y="535.37" width="3.1" height="3.1" fill="none" stroke="#0000ff" stroke-width="1.4"/>
<rect x="80.47" y="528.11" width="3.1" height="3.1" fill="none" stroke="#0000ff" stroke-width="1.4"/>
<rect x="82.18" y="530.28" width="3.1" height="3.1" fill="none" stroke="#0000ff" stroke-width="1.4"/>
<rect x="83.89" y="524.32" width="3.1" height="3.1" fill="none" stroke="#0000ff" stroke-width="1.4"/>
<rect x="85.60" y="522.15" width="3.1" height="3.1" fill="none" stroke="#0000ff" stroke-width="1.4"/>
<rect x="87.32" y="515.75" width="3.1" height="3.1" fill="none" stroke="#0000ff" stroke-width="1.4"/>
<rect x="89.03" y="516.94" width="3.1" height="3.1" fill="none" stroke="#0000ff" stroke-width="1.4"/>
<rect x="90.74" y="538.95" width="3.1" height="3.1" fill="none" stroke="#0000ff" stroke-width="1.4"/>
<rect x="92.45" y="511.85" width="3.1" height="3.1" fill="none" stroke="#0000ff" stroke-width="1.4"/>
<rect x="94.16" y="534.18" width="3.1" height="3.1" fill="none" stroke="#0000ff" stroke-width="1.4"/>
<rect x="95.87" y="512.93" width="3.1" height="3.1" fill="none" stroke="#0000ff" stroke-width="1.4"/>
<rect x="97.59" y="544.04" width="3.1" height="3.1" fill="none" stroke="#0000ff" stroke-width="1.4"/>
<rect x="99.30" y="531.69" width="3.1" height="3.1" fill="none" stroke="#0000ff" stroke-width="1.4"/>
<rect x="101.01" y="540.36" width="3.1" height="3.1" fill="none" stroke="#0000ff" stroke-width="1.4"/>
<rect x="102.72" y="526.81" width="3.1" height="3.1" fill="none" stroke="#0000ff" stroke-width="1.4"/>
<rect x="104.43" y="536.67" width="3.1" height="3.1" fill="none" stroke="#0000ff" stroke-width="1.4"/>
<rect x="106.15" y="546.54" width="3.1" height="3.1" fill="none" stroke="#0000ff" stroke-width="1.4"/>
<rect x="107.86" y="542.74" width="3.1" height="3.1" fill="none" stroke="#0000ff" stroke-width="1.4"/>
<rect x="109.57" y="552.61" width="3.1" height="3.1" fill="none" stroke="#0000ff" stroke-width="1.4"/>
<rect x="111.28" y="569.30" width="3.1" height="3.1" fill="none" stroke="#0000ff" stroke-width="1.4"/>
<rect x="112.99" y="566.05" width="3.1" height="3.1" fill="none" stroke="#0000ff" stroke-width="1.4"/>
<rect x="114.70" y="564.97" width="3.1" height="3.1" fill="none" stroke="#0000ff" stroke-width="1.4"/>
<rect x="116.42" y="566.05" width="3.1" height="3.1" fill="none" stroke="#0000ff" stroke-width="1.4"/>
<rect x="118.13" y="553.80" width="3.1" height="3.1" fill="none" stroke="#0000ff" stroke-width="1.4"/>
<rect x="119.84" y="563.67" width="3.1" height="3.1" fill="none" stroke="#0000ff" stroke-width="1.4"/>
<rect x="121.55" y="563.67" width="3.1" height="3.1" fill="none" stroke="#0000ff" stroke-width="1.4"/>
<rect x="123.26" y="567.89" width="3.1" height="3.1" fill="none" stroke="#0000ff" stroke-width="1.4"/>
<rect x="124.98" y="569.30" width="3.1" height="3.1" fill="none" stroke="#0000ff" stroke-width="1.4"/>
<rect x="126.69" y="572.77" width="3.1" height="3.1" fill="none" stroke="#0000ff" stroke-width="1.4"/>
<rect x="128.40" y="568.54" width="3.1" height="3.1" fill="none" stroke="#0000ff" stroke-width="1.4"/>
<rect x="130.11" y="569.30" width="3.1" height="3.1" fill="none" stroke="#0000ff" stroke-width="1.4"/>
<rect x="131.82" y="566.81" width="3.1" height="3.1" fill="none" stroke="#0000ff" stroke-width="1.4"/>
<rect x="133.53" y="575.81" width="3.1" height="3.1" fill="none" stroke="#0000ff" stroke-width="1.4"/>
<rect x="135.25" y="570.39" width="3.1" height="3.1" fill="none" stroke="#0000ff" stroke-width="1.4"/>
<rect x="136.96" y="571.47" width="3.1" height="3.1" fill="none" stroke="#0000ff" stroke-width="1.4"/>
<rect x="138.67" y="572.55" width="3.1" height="3.1" fill="none" stroke="#0000ff" stroke-width="1.4"/>
<rect x="140.38" y="559.55" width="3.1" height="3.1" fill="none" stroke="#0000ff" stroke-width="1.4"/>
<rect x="142.09" y="560.09" width="3.1" height="3.1" fill="none" stroke="#0000ff" stroke-width="1.4"/>
<rect x="143.81" y="573.53" width="3.1" height="3.1" fill="none" stroke="#0000ff" stroke-width="1.4"/>
<rect x="145.52" y="569.30" width="3.1" height="3.1" fill="none" stroke="#0000ff" stroke-width="1.4"/>
<rect x="147.23" y="566.81" width="3.1" height="3.1" fill="none" stroke="#0000ff" stroke-width="1.4"/>
<rect x="148.94" y="569.84" width="3.1" height="3.1" fill="none" stroke="#0000ff" stroke-width="1.4"/>
<rect x="150.65" y="570.39" width="3.1" height="3.1" fill="none" stroke="#0000ff" stroke-width="1.4"/>
<rect x="152.36" y="567.89" width="3.1" height="3.1" fill="none" stroke="#0000ff" stroke-width="1.4"/>
<rect x="154.08" y="572.23" width="3.1" height="3.1" fill="none" stroke="#0000ff" stroke-width="1.4"/>
<rect x="155.79" y="578.41" width="3.1" height="3.1" fill="none" stroke="#0000ff" stroke-width="1.4"/>
<rect x="157.50" y="574.72" width="3.1" height="3.1" fill="none" stroke="#0000ff" stroke-width="1.4"/>
<rect x="159.21" y="571.04" width="3.1" height="3.1" fill="none" stroke="#0000ff" stroke-width="1.4"/>
<rect x="160.92" y="563.67" width="3.1" height="3.1" fill="none" stroke="#0000ff" stroke-width="1.4"/>
<rect x="162.63" y="566.05" width="3.1" height="3.1" fill="none" stroke="#0000ff" stroke-width="1.4"/>
<rect x="164.35" y="563.67" width="3.1" height="3.1" fill="none" stroke="#0000ff" stroke-width="1.4"/>
<rect x="166.06" y="561.93" width="3.1" height="3.1" fill="none" stroke="#0000ff" stroke-width="1.4"/>
<rect x="167.77" y="562.47" width="3.1" height="3.1" fill="none" stroke="#0000ff" stroke-width="1.4"/>
<rect x="169.48" y="568.54" width="3.1" height="3.1" fill="none" stroke="#0000ff" stroke-width="1.4"/>
<rect x="171.19" y="571.04" width="3.1" height="3.1" fill="none" stroke="#0000ff" stroke-width="1.4"/>
<rect x="172.91" y="569.84" width="3.1" height="3.1" fill="none" stroke="#0000ff" stroke-width="1.4"/>
<rect x="174.62" y="566.81" width="3.1" height="3.1" fill="none" stroke="#0000ff" stroke-width="1.4"/>
<rect x="176.33" y="559.55" width="3.1" height="3.1" fill="none" stroke="#0000ff" stroke-width="1.4"/>
<rect x="178.04" y="562.47" width="3.1" height="3.1" fill="none" stroke="#0000ff" stroke-width="1.4"/>
<rect x="179.75" y="566.81" width="3.1" height="3.1" fill="none" stroke="#0000ff" stroke-width="1.4"/>
<rect x="181.46" y="567.89" width="3.1" height="3.1" fill="none" stroke="#0000ff" stroke-width="1.4"/>
<rect x="183.18" y="566.05" width="3.1" height="3.1" fill="none" stroke="#0000ff" stroke-width="1.4"/>
<rect x="184.89" y="562.80" width="3.1" height="3.1" fill="none" stroke="#0000ff" stroke-width="1.4"/>
<rect x="186.60" y="559.98" width="3.1" height="3.1" fill="none" stroke="#0000ff" stroke-width="1.4"/>
<rect x="188.31" y="553.04" width="3.1" height="3.1" fill="none" stroke="#0000ff" stroke-width="1.4"/>
<rect x="190.02" y="558.79" width="3.1" height="3.1" fill="none" stroke="#0000ff" stroke-width="1.4"/>
<rect x="191.74" y="555.21" width="3.1" height="3.1" fill="none" stroke="#0000ff" stroke-width="1.4"/>
<rect x="193.45" y="548.92" width="3.1" height="3.1" fill="none" stroke="#0000ff" stroke-width="1.4"/>
<rect x="195.16" y="553.58" width="3.1" height="3.1" fill="none" stroke="#0000ff" stroke-width="1.4"/>
<rect x="196.87" y="548.92" width="3.1" height="3.1" fill="none" stroke="#0000ff" stroke-width="1.4"/>
<rect x="198.58" y="556.29" width="3.1" height="3.1" fill="none" stroke="#0000ff" stroke-width="1.4"/>
<rect x="200.29" y="542.20" width="3.1" height="3.1" fill="none" stroke="#0000ff" stroke-width="1.4"/>
<rect x="202.01" y="552.61" width="3.1" height="3.1" fill="none" stroke="#0000ff" stroke-width="1.4"/>
<rect x="203.72" y="546.54" width="3.1" height="3.1" fill="none" stroke="#0000ff" stroke-width="1.4"/>
<rect x="205.43" y="555.21" width="3.1" height="3.1" fill="none" stroke="#0000ff" stroke-width="1.4"/>
<rect x="207.14" y="550.12" width="3.1" height="3.1" fill="none" stroke="#0000ff" stroke-width="1.4"/>
<rect x="208.85" y="556.29" width="3.1" height="3.1" fill="none" stroke="#0000ff" stroke-width="1.4"/>
<rect x="210.57" y="551.42" width="3.1" height="3.1" fill="none" stroke="#0000ff" stroke-width="1.4"/>
<rect x="212.28" y="553.80" width="3.1" height="3.1" fill="none" stroke="#0000ff" stroke-width="1.4"/>
<rect x="213.99" y="550.33" width="3.1" height="3.1" fill="none" stroke="#0000ff" stroke-width="1.4"/>
<rect x="215.70" y="559.98" width="3.1" height="3.1" fill="none" stroke="#0000ff" stroke-width="1.4"/>
<rect x="217.41" y="562.47" width="3.1" height="3.1" fill="none" stroke="#0000ff" stroke-width="1.4"/>
<rect x="219.12" y="561.17" width="3.1" height="3.1" fill="none" stroke="#0000ff" stroke-width="1.4"/>
<rect x="220.84" y="564.97" width="3.1" height="3.1" fill="none" stroke="#0000ff" stroke-width="1.4"/>
<rect x="222.55" y="569.30" width="3.1" height="3.1" fill="none" stroke="#0000ff" stroke-width="1.4"/>
<rect x="224.26" y="564.42" width="3.1" height="3.1" fill="none" stroke="#0000ff" stroke-width="1.4"/>
<rect x="225.97" y="563.67" width="3.1" height="3.1" fill="none" stroke="#0000ff" stroke-width="1.4"/>
<rect x="227.68" y="559.98" width="3.1" height="3.1" fill="none" stroke="#0000ff" stroke-width="1.4"/>
<rect x="229.40" y="566.81" width="3.1" height="3.1" fill="none" stroke="#0000ff" stroke-width="1.4"/>
<rect x="231.11" y="573.53" width="3.1" height="3.1" fill="none" stroke="#0000ff" stroke-width="1.4"/>
<rect x="232.82" y="562.47" width="3.1" height="3.1" fill="none" stroke="#0000ff" stroke-width="1.4"/>
<rect x="234.53" y="573.53" width="3.1" height="3.1" fill="none" stroke="#0000ff" stroke-width="1.4"/>
<rect x="236.24" y="573.53" width="3.1" height="3.1" fill="none" stroke="#0000ff" stroke-width="1.4"/>
<rect x="237.95" y="575.26" width="3.1" height="3.1" fill="none" stroke="#0000ff" stroke-width="1.4"/>
<rect x="239.67" y="572.23" width="3.1" height="3.1" fill="none" stroke="#0000ff" stroke-width="1.4"/>
<rect x="241.38" y="573.53" width="3.1" height="3.1" fill="none" stroke="#0000ff" stroke-width="1.4"/>
<rect x="243.09" y="574.72" width="3.1" height="3.1" fill="none" stroke="#0000ff" stroke-width="1.4"/>
<rect x="244.80" y="578.41" width="3.1" height="3.1" fill="none" stroke="#0000ff" stroke-width="1.4"/>
<rect x="246.51" y="575.81" width="3.1" height="3.1" fill="none" stroke="#0000ff" stroke-width="1.4"/>
<rect x="248.22" y="577.22" width="3.1" height="3.1" fill="none" stroke="#0000ff" stroke-width="1.4"/>
<rect x="249.94" y="582.31" width="3.1" height="3.1" fill="none" stroke="#0000ff" stroke-width="1.4"/>
<rect x="251.65" y="574.72" width="3.1" height="3.1" fill="none" stroke="#0000ff" stroke-width="1.4"/>
<polyline points="35.80,631.56 37.51,636.43 39.22,637.73 40.94,630.80 42.65,623.43 44.36,622.45 46.07,586.03 47.78,656.16 49.49,581.69 51.21,592.21 52.92,585.59 54.63,570.09 56.34,555.89 58.05,556.54 59.77,595.46 61.48,564.35 63.19,568.36 64.90,575.08 66.61,621.80 68.32,572.59 70.04,579.96 71.75,612.04 73.46,581.69 75.17,620.50 76.88,623.43 78.59,603.37 80.31,579.96 82.02,529.12 83.73,513.40 85.44,622.45 87.15,589.82 88.87,574.54 90.58,599.58 92.29,597.95 94.00,606.30 95.71,614.21 97.42,602.83 99.14,637.73 100.85,599.58 102.56,631.56 104.27,598.39 105.98,626.68 107.70,604.46 109.41,620.50 111.12,620.07 112.83,602.07 114.54,629.17 116.25,652.15 117.97,625.05 119.68,626.68 121.39,634.81 123.10,661.91 124.81,639.14 126.53,637.73 128.24,653.67 129.95,639.14 131.66,634.81 133.37,664.08 135.08,657.57 136.80,645.65 138.51,646.41 140.22,645.65 141.93,660.28 143.64,637.73 145.36,646.73 147.07,653.24 148.78,656.16 150.49,647.82 152.20,658.66 153.91,649.55 155.63,652.15 157.34,647.82 159.05,642.40 160.76,639.14 162.47,640.77 164.19,649.98 165.90,656.16 167.61,643.48 169.32,645.11 171.03,653.24 172.74,620.72 174.46,655.40 176.17,645.11 177.88,639.69 179.59,647.82 181.30,657.57 183.01,649.98 184.73,654.32 186.44,659.74 188.15,657.57 189.86,643.48 191.57,645.65 193.29,644.56 195.00,639.69 196.71,641.31 198.42,638.93 200.13,645.11 201.84,639.69 203.56,641.31 205.27,637.73 206.98,646.73 208.69,636.54 210.40,646.41 212.12,639.69 213.83,632.31 215.54,649.98 217.25,648.90 218.96,651.07 220.67,652.48 222.39,630.47 224.10,647.60 225.81,645.11 227.52,639.69 229.23,646.41 230.95,662.34 232.66,645.65 234.37,647.60 236.08,659.41 237.79,652.48 239.50,648.03 241.22,645.11 242.93,646.41 244.64,652.48 246.35,635.24 248.06,947.00 249.77,947.00 251.49,656.16 253.20,647.06" fill="none" stroke="#ff0000" stroke-width="1.2" stroke-linejoin="round"/>
<rect x="34.25" y="630.01" width="3.1" height="3.1" fill="none" stroke="#ff0000" stroke-width="1.4"/>
<rect x="35.96" y="634.88" width="3.1" height="3.1" fill="none" stroke="#ff0000" stroke-width="1.4"/>
<rect x="37.67" y="636.18" width="3.1" height="3.1" fill="none" stroke="#ff0000" stroke-width="1.4"/>
<rect x="39.39" y="629.25" width="3.1" height="3.1" fill="none" stroke="#ff0000" stroke-width="1.4"/>
<rect x="41.10" y="621.88" width="3.1" height="3.1" fill="none" stroke="#ff0000" stroke-width="1.4"/>
<rect x="42.81" y="620.90" width="3.1" height="3.1" fill="none" stroke="#ff0000" stroke-width="1.4"/>
<rect x="44.52" y="584.48" width="3.1" height="3.1" fill="none" stroke="#ff0000" stroke-width="1.4"/>
<rect x="46.23" y="654.61" width="3.1" height="3.1" fill="none" stroke="#ff0000" stroke-width="1.4"/>
<rect x="47.94" y="580.14" width="3.1" height="3.1" fill="none" stroke="#ff0000" stroke-width="1.4"/>
<rect x="49.66" y="590.66" width="3.1" height="3.1" fill="none" stroke="#ff0000" stroke-width="1.4"/>
<rect x="51.37" y="584.04" width="3.1" height="3.1" fill="none" stroke="#ff0000" stroke-width="1.4"/>
<rect x="53.08" y="568.54" width="3.1" height="3.1" fill="none" stroke="#ff0000" stroke-width="1.4"/>
<rect x="54.79" y="554.34" width="3.1" height="3.1" fill="none" stroke="#ff0000" stroke-width="1.4"/>
<rect x="56.50" y="554.99" width="3.1" height="3.1" fill="none" stroke="#ff0000" stroke-width="1.4"/>
<rect x="58.22" y="593.91" width="3.1" height="3.1" fill="none" stroke="#ff0000" stroke-width="1.4"/>
<rect x="59.93" y="562.80" width="3.1" height="3.1" fill="none" stroke="#ff0000" stroke-width="1.4"/>
<rect x="61.64" y="566.81" width="3.1" height="3.1" fill="none" stroke="#ff0000" stroke-width="1.4"/>
<rect x="63.35" y="573.53" width="3.1" height="3.1" fill="none" stroke="#ff0000" stroke-width="1.4"/>
<rect x="65.06" y="620.25" width="3.1" height="3.1" fill="none" stroke="#ff0000" stroke-width="1.4"/>
<rect x="66.77" y="571.04" width="3.1" height="3.1" fill="none" stroke="#ff0000" stroke-width="1.4"/>
<rect x="68.49" y="578.41" width="3.1" height="3.1" fill="none" stroke="#ff0000" stroke-width="1.4"/>
<rect x="70.20" y="610.49" width="3.1" height="3.1" fill="none" stroke="#ff0000" stroke-width="1.4"/>
<rect x="71.91" y="580.14" width="3.1" height="3.1" fill="none" stroke="#ff0000" stroke-width="1.4"/>
<rect x="73.62" y="618.95" width="3.1" height="3.1" fill="none" stroke="#ff0000" stroke-width="1.4"/>
<rect x="75.33" y="621.88" width="3.1" height="3.1" fill="none" stroke="#ff0000" stroke-width="1.4"/>
<rect x="77.05" y="601.82" width="3.1" height="3.1" fill="none" stroke="#ff0000" stroke-width="1.4"/>
<rect x="78.76" y="578.41" width="3.1" height="3.1" fill="none" stroke="#ff0000" stroke-width="1.4"/>
<rect x="80.47" y="527.57" width="3.1" height="3.1" fill="none" stroke="#ff0000" stroke-width="1.4"/>
<rect x="82.18" y="511.85" width="3.1" height="3.1" fill="none" stroke="#ff0000" stroke-width="1.4"/>
<rect x="83.89" y="620.90" width="3.1" height="3.1" fill="none" stroke="#ff0000" stroke-width="1.4"/>
<rect x="85.60" y="588.27" width="3.1" height="3.1" fill="none" stroke="#ff0000" stroke-width="1.4"/>
<rect x="87.32" y="572.99" width="3.1" height="3.1" fill="none" stroke="#ff0000" stroke-width="1.4"/>
<rect x="89.03" y="598.03" width="3.1" height="3.1" fill="none" stroke="#ff0000" stroke-width="1.4"/>
<rect x="90.74" y="596.40" width="3.1" height="3.1" fill="none" stroke="#ff0000" stroke-width="1.4"/>
<rect x="92.45" y="604.75" width="3.1" height="3.1" fill="none" stroke="#ff0000" stroke-width="1.4"/>
<rect x="94.16" y="612.66" width="3.1" height="3.1" fill="none" stroke="#ff0000" stroke-width="1.4"/>
<rect x="95.87" y="601.28" width="3.1" height="3.1" fill="none" stroke="#ff0000" stroke-width="1.4"/>
<rect x="97.59" y="636.18" width="3.1" height="3.1" fill="none" stroke="#ff0000" stroke-width="1.4"/>
<rect x="99.30" y="598.03" width="3.1" height="3.1" fill="none" stroke="#ff0000" stroke-width="1.4"/>
<rect x="101.01" y="630.01" width="3.1" height="3.1" fill="none" stroke="#ff0000" stroke-width="1.4"/>
<rect x="102.72" y="596.84" width="3.1" height="3.1" fill="none" stroke="#ff0000" stroke-width="1.4"/>
<rect x="104.43" y="625.13" width="3.1" height="3.1" fill="none" stroke="#ff0000" stroke-width="1.4"/>
<rect x="106.15" y="602.91" width="3.1" height="3.1" fill="none" stroke="#ff0000" stroke-width="1.4"/>
<rect x="107.86" y="618.95" width="3.1" height="3.1" fill="none" stroke="#ff0000" stroke-width="1.4"/>
<rect x="109.57" y="618.52" width="3.1" height="3.1" fill="none" stroke="#ff0000" stroke-width="1.4"/>
<rect x="111.28" y="600.52" width="3.1" height="3.1" fill="none" stroke="#ff0000" stroke-width="1.4"/>
<rect x="112.99" y="627.62" width="3.1" height="3.1" fill="none" stroke="#ff0000" stroke-width="1.4"/>
<rect x="114.70" y="650.60" width="3.1" height="3.1" fill="none" stroke="#ff0000" stroke-width="1.4"/>
<rect x="116.42" y="623.50" width="3.1" height="3.1" fill="none" stroke="#ff0000" stroke-width="1.4"/>
<rect x="118.13" y="625.13" width="3.1" height="3.1" fill="none" stroke="#ff0000" stroke-width="1.4"/>
<rect x="119.84" y="633.26" width="3.1" height="3.1" fill="none" stroke="#ff0000" stroke-width="1.4"/>
<rect x="121.55" y="660.36" width="3.1" height="3.1" fill="none" stroke="#ff0000" stroke-width="1.4"/>
<rect x="123.26" y="637.59" width="3.1" height="3.1" fill="none" stroke="#ff0000" stroke-width="1.4"/>
<rect x="124.98" y="636.18" width="3.1" height="3.1" fill="none" stroke="#ff0000" stroke-width="1.4"/>
<rect x="126.69" y="652.12" width="3.1" height="3.1" fill="none" stroke="#ff0000" stroke-width="1.4"/>
<rect x="128.40" y="637.59" width="3.1" height="3.1" fill="none" stroke="#ff0000" stroke-width="1.4"/>
<rect x="130.11" y="633.26" width="3.1" height="3.1" fill="none" stroke="#ff0000" stroke-width="1.4"/>
<rect x="131.82" y="662.53" width="3.1" height="3.1" fill="none" stroke="#ff0000" stroke-width="1.4"/>
<rect x="133.53" y="656.02" width="3.1" height="3.1" fill="none" stroke="#ff0000" stroke-width="1.4"/>
<rect x="135.25" y="644.10" width="3.1" height="3.1" fill="none" stroke="#ff0000" stroke-width="1.4"/>
<rect x="136.96" y="644.86" width="3.1" height="3.1" fill="none" stroke="#ff0000" stroke-width="1.4"/>
<rect x="138.67" y="644.10" width="3.1" height="3.1" fill="none" stroke="#ff0000" stroke-width="1.4"/>
<rect x="140.38" y="658.73" width="3.1" height="3.1" fill="none" stroke="#ff0000" stroke-width="1.4"/>
<rect x="142.09" y="636.18" width="3.1" height="3.1" fill="none" stroke="#ff0000" stroke-width="1.4"/>
<rect x="143.81" y="645.18" width="3.1" height="3.1" fill="none" stroke="#ff0000" stroke-width="1.4"/>
<rect x="145.52" y="651.69" width="3.1" height="3.1" fill="none" stroke="#ff0000" stroke-width="1.4"/>
<rect x="147.23" y="654.61" width="3.1" height="3.1" fill="none" stroke="#ff0000" stroke-width="1.4"/>
<rect x="148.94" y="646.27" width="3.1" height="3.1" fill="none" stroke="#ff0000" stroke-width="1.4"/>
<rect x="150.65" y="657.11" width="3.1" height="3.1" fill="none" stroke="#ff0000" stroke-width="1.4"/>
<rect x="152.36" y="648.00" width="3.1" height="3.1" fill="none" stroke="#ff0000" stroke-width="1.4"/>
<rect x="154.08" y="650.60" width="3.1" height="3.1" fill="none" stroke="#ff0000" stroke-width="1.4"/>
<rect x="155.79" y="646.27" width="3.1" height="3.1" fill="none" stroke="#ff0000" stroke-width="1.4"/>
<rect x="157.50" y="640.85" width="3.1" height="3.1" fill="none" stroke="#ff0000" stroke-width="1.4"/>
<rect x="159.21" y="637.59" width="3.1" height="3.1" fill="none" stroke="#ff0000" stroke-width="1.4"/>
<rect x="160.92" y="639.22" width="3.1" height="3.1" fill="none" stroke="#ff0000" stroke-width="1.4"/>
<rect x="162.63" y="648.43" width="3.1" height="3.1" fill="none" stroke="#ff0000" stroke-width="1.4"/>
<rect x="164.35" y="654.61" width="3.1" height="3.1" fill="none" stroke="#ff0000" stroke-width="1.4"/>
<rect x="166.06" y="641.93" width="3.1" height="3.1" fill="none" stroke="#ff0000" stroke-width="1.4"/>
<rect x="167.77" y="643.56" width="3.1" height="3.1" fill="none" stroke="#ff0000" stroke-width="1.4"/>
<rect x="169.48" y="651.69" width="3.1" height="3.1" fill="none" stroke="#ff0000" stroke-width="1.4"/>
<rect x="171.19" y="619.17" width="3.1" height="3.1" fill="none" stroke="#ff0000" stroke-width="1.4"/>
<rect x="172.91" y="653.85" width="3.1" height="3.1" fill="none" stroke="#ff0000" stroke-width="1.4"/>
<rect x="174.62" y="643.56" width="3.1" height="3.1" fill="none" stroke="#ff0000" stroke-width="1.4"/>
<rect x="176.33" y="638.14" width="3.1" height="3.1" fill="none" stroke="#ff0000" stroke-width="1.4"/>
<rect x="178.04" y="646.27" width="3.1" height="3.1" fill="none" stroke="#ff0000" stroke-width="1.4"/>
<rect x="179.75" y="656.02" width="3.1" height="3.1" fill="none" stroke="#ff0000" stroke-width="1.4"/>
<rect x="181.46" y="648.43" width="3.1" height="3.1" fill="none" stroke="#ff0000" stroke-width="1.4"/>
<rect x="183.18" y="652.77" width="3.1" height="3.1" fill="none" stroke="#ff0000" stroke-width="1.4"/>
<rect x="184.89" y="658.19" width="3.1" height="3.1" fill="none" stroke="#ff0000" stroke-width="1.4"/>
<rect x="186.60" y="656.02" width="3.1" height="3.1" fill="none" stroke="#ff0000" stroke-width="1.4"/>
<rect x="188.31" y="641.93" width="3.1" height="3.1" fill="none" stroke="#ff0000" stroke-width="1.4"/>
<rect x="190.02" y="644.10" width="3.1" height="3.1" fill="none" stroke="#ff0000" stroke-width="1.4"/>
<rect x="191.74" y="643.01" width="3.1" height="3.1" fill="none" stroke="#ff0000" stroke-width="1.4"/>
<rect x="193.45" y="638.14" width="3.1" height="3.1" fill="none" stroke="#ff0000" stroke-width="1.4"/>
<rect x="195.16" y="639.76" width="3.1" height="3.1" fill="none" stroke="#ff0000" stroke-width="1.4"/>
<rect x="196.87" y="637.38" width="3.1" height="3.1" fill="none" stroke="#ff0000" stroke-width="1.4"/>
<rect x="198.58" y="643.56" width="3.1" height="3.1" fill="none" stroke="#ff0000" stroke-width="1.4"/>
<rect x="200.29" y="638.14" width="3.1" height="3.1" fill="none" stroke="#ff0000" stroke-width="1.4"/>
<rect x="202.01" y="639.76" width="3.1" height="3.1" fill="none" stroke="#ff0000" stroke-width="1.4"/>
<rect x="203.72" y="636.18" width="3.1" height="3.1" fill="none" stroke="#ff0000" stroke-width="1.4"/>
<rect x="205.43" y="645.18" width="3.1" height="3.1" fill="none" stroke="#ff0000" stroke-width="1.4"/>
<rect x="207.14" y="634.99" width="3.1" height="3.1" fill="none" stroke="#ff0000" stroke-width="1.4"/>
<rect x="208.85" y="644.86" width="3.1" height="3.1" fill="none" stroke="#ff0000" stroke-width="1.4"/>
<rect x="210.57" y="638.14" width="3.1" height="3.1" fill="none" stroke="#ff0000" stroke-width="1.4"/>
<rect x="212.28" y="630.76" width="3.1" height="3.1" fill="none" stroke="#ff0000" stroke-width="1.4"/>
<rect x="213.99" y="648.43" width="3.1" height="3.1" fill="none" stroke="#ff0000" stroke-width="1.4"/>
<rect x="215.70" y="647.35" width="3.1" height="3.1" fill="none" stroke="#ff0000" stroke-width="1.4"/>
<rect x="217.41" y="649.52" width="3.1" height="3.1" fill="none" stroke="#ff0000" stroke-width="1.4"/>
<rect x="219.12" y="650.93" width="3.1" height="3.1" fill="none" stroke="#ff0000" stroke-width="1.4"/>
<rect x="220.84" y="628.92" width="3.1" height="3.1" fill="none" stroke="#ff0000" stroke-width="1.4"/>
<rect x="222.55" y="646.05" width="3.1" height="3.1" fill="none" stroke="#ff0000" stroke-width="1.4"/>
<rect x="224.26" y="643.56" width="3.1" height="3.1" fill="none" stroke="#ff0000" stroke-width="1.4"/>
<rect x="225.97" y="638.14" width="3.1" height="3.1" fill="none" stroke="#ff0000" stroke-width="1.4"/>
<rect x="227.68" y="644.86" width="3.1" height="3.1" fill="none" stroke="#ff0000" stroke-width="1.4"/>
<rect x="229.40" y="660.79" width="3.1" height="3.1" fill="none" stroke="#ff0000" stroke-width="1.4"/>
<rect x="231.11" y="644.10" width="3.1" height="3.1" fill="none" stroke="#ff0000" stroke-width="1.4"/>
<rect x="232.82" y="646.05" width="3.1" height="3.1" fill="none" stroke="#ff0000" stroke-width="1.4"/>
<rect x="234.53" y="657.86" width="3.1" height="3.1" fill="none" stroke="#ff0000" stroke-width="1.4"/>
<rect x="236.24" y="650.93" width="3.1" height="3.1" fill="none" stroke="#ff0000" stroke-width="1.4"/>
<rect x="237.95" y="646.48" width="3.1" height="3.1" fill="none" stroke="#ff0000" stroke-width="1.4"/>
<rect x="239.67" y="643.56" width="3.1" height="3.1" fill="none" stroke="#ff0000" stroke-width="1.4"/>
<rect x="241.38" y="644.86" width="3.1" height="3.1" fill="none" stroke="#ff0000" stroke-width="1.4"/>
<rect x="243.09" y="650.93" width="3.1" height="3.1" fill="none" stroke="#ff0000" stroke-width="1.4"/>
<rect x="244.80" y="633.69" width="3.1" height="3.1" fill="none" stroke="#ff0000" stroke-width="1.4"/>
<rect x="246.51" y="945.45" width="3.1" height="3.1" fill="none" stroke="#ff0000" stroke-width="1.4"/>
<rect x="248.22" y="945.45" width="3.1" height="3.1" fill="none" stroke="#ff0000" stroke-width="1.4"/>
<rect x="249.94" y="654.61" width="3.1" height="3.1" fill="none" stroke="#ff0000" stroke-width="1.4"/>
<rect x="251.65" y="645.51" width="3.1" height="3.1" fill="none" stroke="#ff0000" stroke-width="1.4"/>
<line x1="83.73" y1="513.2" x2="83.73" y2="674.5" stroke="#00ff00" stroke-width="1.4" stroke-dasharray="4.5 3"/>
</g>
<rect x="36.0" y="513.2" width="217.0" height="161.29999999999995" fill="none" stroke="#262626" stroke-width="0.7"/>
<line x1="68.32" y1="674.5" x2="68.32" y2="672.3" stroke="#262626" stroke-width="0.6"/>
<line x1="68.32" y1="513.2" x2="68.32" y2="515.4000000000001" stroke="#262626" stroke-width="0.6"/>
<line x1="102.56" y1="674.5" x2="102.56" y2="672.3" stroke="#262626" stroke-width="0.6"/>
<line x1="102.56" y1="513.2" x2="102.56" y2="515.4000000000001" stroke="#262626" stroke-width="0.6"/>
<line x1="136.80" y1="674.5" x2="136.80" y2="672.3" stroke="#262626" stroke-width="0.6"/>
<line x1="136.80" y1="513.2" x2="136.80" y2="515.4000000000001" stroke="#262626" stroke-width="0.6"/>
<line x1="171.03" y1="674.5" x2="171.03" y2="672.3" stroke="#262626" stroke-width="0.6"/>
<line x1="171.03" y1="513.2" x2="171.03" y2="515.4000000000001" stroke="#262626" stroke-width="0.6"/>
<line x1="205.27" y1="674.5" x2="205.27" y2="672.3" stroke="#262626" stroke-width="0.6"/>
<line x1="205.27" y1="513.2" x2="205.27" y2="515.4000000000001" stroke="#262626" stroke-width="0.6"/>
<line x1="239.50" y1="674.5" x2="239.50" y2="672.3" stroke="#262626" stroke-width="0.6"/>
<line x1="239.50" y1="513.2" x2="239.50" y2="515.4000000000001" stroke="#262626" stroke-width="0.6"/>
<line x1="36.0" y1="566.97" x2="38.2" y2="566.97" stroke="#262626" stroke-width="0.6"/>
<line x1="253.0" y1="566.97" x2="250.8" y2="566.97" stroke="#262626" stroke-width="0.6"/>
<line x1="36.0" y1="620.73" x2="38.2" y2="620.73" stroke="#262626" stroke-width="0.6"/>
<line x1="253.0" y1="620.73" x2="250.8" y2="620.73" stroke="#262626" stroke-width="0.6"/>
<text class="s" x="144.00" y="704.00" font-size="12" text-anchor="middle" fill="#262626">Candidate trajectory number</text>
<text class="s" x="11.80" y="594.00" font-size="12" text-anchor="middle" fill="#262626" transform="rotate(-90 11.80 594.00)">Normalized amplitude (dB)</text>
<text class="r" x="133.00" y="726.00" font-size="13" text-anchor="middle" fill="#262626">(e)</text>
<rect x="167.4" y="576.5" width="72.4" height="46.8" fill="#fff" stroke="#4d4d4d" stroke-width="0.6"/>
<line x1="169.8" y1="584.5" x2="189.5" y2="584.5" stroke="#0000ff" stroke-width="1.2"/>
<rect x="178.15" y="583.05" width="2.9" height="2.9" fill="none" stroke="#0000ff" stroke-width="1.3"/>
<text class="s" x="191.30" y="587.80" font-size="9.4" text-anchor="start" fill="#262626">GRFT</text>
<line x1="169.8" y1="599.7" x2="189.5" y2="599.7" stroke="#ff0000" stroke-width="1.2"/>
<rect x="178.15" y="598.25" width="2.9" height="2.9" fill="none" stroke="#ff0000" stroke-width="1.3"/>
<text class="s" x="191.30" y="603.00" font-size="9.4" text-anchor="start" fill="#262626">AFS-GRFT</text>
<line x1="169.8" y1="615" x2="189.5" y2="615" stroke="#00ff00" stroke-width="1.4" stroke-dasharray="4.5 3"/>
<text class="s" x="191.30" y="618.30" font-size="9.4" text-anchor="start" fill="#262626">Actual</text>
<polyline points="325.78,631.05 327.94,631.59 330.10,632.13 332.26,632.66 334.42,633.19 336.58,633.72 338.75,634.23 340.91,634.73 343.07,635.22 345.23,635.69 347.39,636.15 349.55,636.58 351.71,637.00 353.87,637.41 356.03,637.79 358.19,638.17 360.36,638.53 362.52,638.89 364.68,639.23 366.84,639.56 369.00,639.87 371.16,640.16 373.32,640.44 375.48,640.69 377.64,640.92 379.80,641.13 381.96,641.31 384.13,641.47 386.29,641.61 388.45,641.71 390.61,641.80 392.77,641.85 394.93,641.87 397.09,641.85 399.25,641.80 401.41,641.71 403.57,641.58 405.73,641.41 407.90,641.20 410.06,640.96 412.22,640.69 414.38,640.38 416.54,640.05 418.70,639.70 420.86,639.33 423.02,638.94 425.18,638.53 427.34,638.11 429.51,637.68 431.67,637.23 433.83,636.77 435.99,636.31 438.15,635.83 440.31,635.34 442.47,634.85 444.63,634.36 446.79,633.86 448.95,633.35 451.11,632.84 453.28,632.33 455.44,631.81 457.60,631.28 459.76,630.74 461.92,630.20 464.08,629.65 466.24,629.10 468.40,628.54 470.56,627.97 472.72,627.40 474.88,626.82 477.05,626.25 479.21,625.67 481.37,625.09 483.53,624.51 485.69,623.93 487.85,623.35 490.01,622.77 492.17,622.19 494.33,621.61 496.49,621.03 498.66,620.45 500.82,619.87 502.98,619.29 505.14,618.71 507.30,618.13 509.46,617.55 509.82,617.55" fill="none" stroke="#000" stroke-width="1.5" stroke-linejoin="round"/>
<polyline points="325.78,639.11 327.94,639.46 330.10,639.80 332.26,640.13 334.42,640.45 336.58,640.76 338.75,641.04 340.91,641.32 343.07,641.57 345.23,641.82 347.39,642.05 349.55,642.26 351.71,642.47 353.87,642.66 356.03,642.83 358.19,642.99 360.36,643.14 362.52,643.28 364.68,643.41 366.84,643.53 369.00,643.63 371.16,643.73 373.32,643.81 375.48,643.87 377.64,643.89 379.80,643.89 381.96,643.84 384.13,643.76 386.29,643.64 388.45,643.48 390.61,643.28 392.77,643.05 394.93,642.80 397.09,642.52 399.25,642.22 401.41,641.88 403.57,641.52 405.73,641.13 407.90,640.72 410.06,640.27 412.22,639.78 414.38,639.27 416.54,638.73 418.70,638.16 420.86,637.57 423.02,636.95 425.18,636.31 427.34,635.65 429.51,634.96 431.67,634.26 433.83,633.54 435.99,632.81 438.15,632.07 440.31,631.32 442.47,630.57 444.63,629.82 446.79,629.07 448.95,628.32 451.11,627.58 453.28,626.85 455.44,626.14 457.60,625.44 459.76,624.75 461.92,624.07 464.08,623.41 466.24,622.75 468.40,622.09 470.56,621.44 472.72,620.77 474.88,620.10 477.05,619.42 479.21,618.72 481.37,618.01 483.53,617.29 485.69,616.57 487.85,615.83 490.01,615.09 492.17,614.35 494.33,613.61 496.49,612.86 498.66,612.11 500.82,611.37 502.98,610.62 505.14,609.87 507.30,609.13 509.46,608.38 509.82,608.38" fill="none" stroke="#ff0000" stroke-width="1.5" stroke-linejoin="round"/>
<rect x="432.5" y="518.4" width="72.2" height="25.2" fill="#fff" stroke="#8c8c8c" stroke-width="0.4"/>
<line x1="434.7" y1="525.6" x2="453.8" y2="525.6" stroke="#000" stroke-width="1.5"/>
<text class="s" x="455.80" y="528.90" font-size="9.3" text-anchor="start" fill="#262626">GRFT</text>
<line x1="434.7" y1="537.6" x2="453.8" y2="537.6" stroke="#ff0000" stroke-width="1.5"/>
<text class="s" x="455.80" y="540.90" font-size="9.3" text-anchor="start" fill="#262626">AFS-GRFT</text>
</svg></body></html>
